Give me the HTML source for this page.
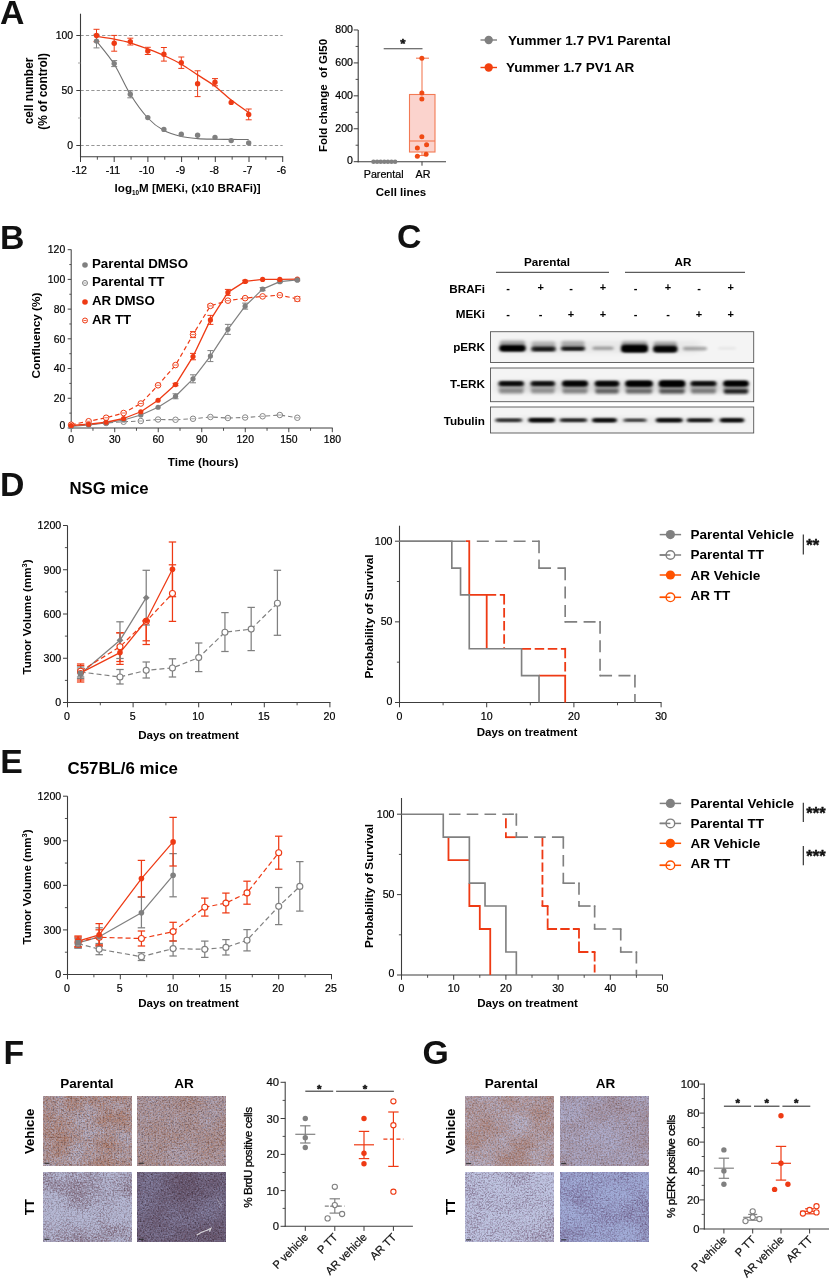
<!DOCTYPE html>
<html lang="en"><head><meta charset="utf-8"><title>Figure</title>
<style>html,body{margin:0;padding:0;background:#fff}svg{display:block}text{font-family:"Liberation Sans",Arial,Helvetica,sans-serif}</style></head>
<body>
<svg width="829" height="1280" viewBox="0 0 829 1280">
<rect width="829" height="1280" fill="#fff"/>
<g id="panelA">
<text x="0" y="23.9" font-size="33.8" font-weight="bold" text-anchor="start" fill="#111">A</text>
<line x1="80.5" y1="35.5" x2="282.7" y2="35.5" stroke="#8a8a8a" stroke-width="0.9" stroke-dasharray="3.2,2.2"/>
<line x1="80.5" y1="90.5" x2="282.7" y2="90.5" stroke="#8a8a8a" stroke-width="0.9" stroke-dasharray="3.2,2.2"/>
<line x1="80.5" y1="145.5" x2="282.7" y2="145.5" stroke="#8a8a8a" stroke-width="0.9" stroke-dasharray="3.2,2.2"/>
<line x1="80.5" y1="13.7" x2="80.5" y2="157.2" stroke="#3c3c3c" stroke-width="1.1"/>
<line x1="80" y1="156.7" x2="283.2" y2="156.7" stroke="#3c3c3c" stroke-width="1.1"/>
<line x1="76.3" y1="35.5" x2="80.5" y2="35.5" stroke="#3c3c3c" stroke-width="1"/>
<text x="73" y="39.2" font-size="10.4" font-weight="normal" text-anchor="end" fill="#000" stroke="#000" stroke-width="0.2">100</text>
<line x1="76.3" y1="90.5" x2="80.5" y2="90.5" stroke="#3c3c3c" stroke-width="1"/>
<text x="73" y="94.2" font-size="10.4" font-weight="normal" text-anchor="end" fill="#000" stroke="#000" stroke-width="0.2">50</text>
<line x1="76.3" y1="145.5" x2="80.5" y2="145.5" stroke="#3c3c3c" stroke-width="1"/>
<text x="73" y="149.2" font-size="10.4" font-weight="normal" text-anchor="end" fill="#000" stroke="#000" stroke-width="0.2">0</text>
<line x1="78" y1="63" x2="80.5" y2="63" stroke="#999" stroke-width="0.9"/>
<line x1="78" y1="118" x2="80.5" y2="118" stroke="#999" stroke-width="0.9"/>
<line x1="80.5" y1="156.7" x2="80.5" y2="162" stroke="#3c3c3c" stroke-width="1"/>
<text x="79.3" y="173.5" font-size="10.6" font-weight="normal" text-anchor="middle" fill="#000" stroke="#000" stroke-width="0.2">-12</text>
<line x1="114.2" y1="156.7" x2="114.2" y2="162" stroke="#3c3c3c" stroke-width="1"/>
<text x="113" y="173.5" font-size="10.6" font-weight="normal" text-anchor="middle" fill="#000" stroke="#000" stroke-width="0.2">-11</text>
<line x1="147.9" y1="156.7" x2="147.9" y2="162" stroke="#3c3c3c" stroke-width="1"/>
<text x="146.7" y="173.5" font-size="10.6" font-weight="normal" text-anchor="middle" fill="#000" stroke="#000" stroke-width="0.2">-10</text>
<line x1="181.6" y1="156.7" x2="181.6" y2="162" stroke="#3c3c3c" stroke-width="1"/>
<text x="180.4" y="173.5" font-size="10.6" font-weight="normal" text-anchor="middle" fill="#000" stroke="#000" stroke-width="0.2">-9</text>
<line x1="215.3" y1="156.7" x2="215.3" y2="162" stroke="#3c3c3c" stroke-width="1"/>
<text x="214.1" y="173.5" font-size="10.6" font-weight="normal" text-anchor="middle" fill="#000" stroke="#000" stroke-width="0.2">-8</text>
<line x1="249" y1="156.7" x2="249" y2="162" stroke="#3c3c3c" stroke-width="1"/>
<text x="247.8" y="173.5" font-size="10.6" font-weight="normal" text-anchor="middle" fill="#000" stroke="#000" stroke-width="0.2">-7</text>
<line x1="282.7" y1="156.7" x2="282.7" y2="162" stroke="#3c3c3c" stroke-width="1"/>
<text x="281.5" y="173.5" font-size="10.6" font-weight="normal" text-anchor="middle" fill="#000" stroke="#000" stroke-width="0.2">-6</text>
<line x1="97.35" y1="156.7" x2="97.35" y2="159.7" stroke="#3c3c3c" stroke-width="0.9"/>
<line x1="131.05" y1="156.7" x2="131.05" y2="159.7" stroke="#3c3c3c" stroke-width="0.9"/>
<line x1="164.75" y1="156.7" x2="164.75" y2="159.7" stroke="#3c3c3c" stroke-width="0.9"/>
<line x1="198.45" y1="156.7" x2="198.45" y2="159.7" stroke="#3c3c3c" stroke-width="0.9"/>
<line x1="232.15" y1="156.7" x2="232.15" y2="159.7" stroke="#3c3c3c" stroke-width="0.9"/>
<line x1="265.85" y1="156.7" x2="265.85" y2="159.7" stroke="#3c3c3c" stroke-width="0.9"/>
<text x="33.2" y="91" font-size="11.9" font-weight="bold" text-anchor="middle" fill="#000" transform="rotate(-90 33.2 91)">cell number</text>
<text x="47" y="91.4" font-size="11.9" font-weight="bold" text-anchor="middle" fill="#000" transform="rotate(-90 47 91.4)">(% of control)</text>
<text x="114.6" y="191.5" font-size="11.6" font-weight="bold" text-anchor="start" fill="#000">log<tspan font-size="6.3" dy="3.3">10</tspan><tspan dy="-3.3">M [MEKi, (x10 BRAFi)]</tspan></text>
<path d="M96.5,41.1 C99.45,44.95 108.57,55.33 114.2,64.2 C119.83,73.07 124.7,85.33 130.3,94.3 C135.9,103.27 142.2,111.95 147.8,118 C153.4,124.05 158.32,127.52 163.9,130.6 C169.48,133.68 175.68,135.17 181.3,136.5 C186.92,137.83 191.98,138.15 197.6,138.6 C203.22,139.05 209.4,139.07 215,139.2 C220.6,139.33 225.58,139.35 231.2,139.4 C236.82,139.45 245.78,139.48 248.7,139.5" fill="none" stroke="#707070" stroke-width="1.1"/>
<path d="M96.5,36.4 C99.45,36.85 108.57,38.03 114.2,39.1 C119.83,40.17 124.7,41.15 130.3,42.8 C135.9,44.45 142.2,46.88 147.8,49 C153.4,51.12 158.32,52.97 163.9,55.5 C169.48,58.03 175.68,60.97 181.3,64.2 C186.92,67.43 191.98,71.23 197.6,74.9 C203.22,78.57 209.4,82.02 215,86.2 C220.6,90.38 225.58,95.62 231.2,100 C236.82,104.38 245.78,110.42 248.7,112.5" fill="none" stroke="#ee3a14" stroke-width="1.3"/>
<line x1="96.5" y1="34.3" x2="96.5" y2="47.9" stroke="#808080" stroke-width="1"/>
<line x1="93.5" y1="34.3" x2="99.5" y2="34.3" stroke="#808080" stroke-width="1"/>
<line x1="93.5" y1="47.9" x2="99.5" y2="47.9" stroke="#808080" stroke-width="1"/>
<line x1="114.2" y1="60.6" x2="114.2" y2="66.6" stroke="#808080" stroke-width="1"/>
<line x1="111.2" y1="60.6" x2="117.2" y2="60.6" stroke="#808080" stroke-width="1"/>
<line x1="111.2" y1="66.6" x2="117.2" y2="66.6" stroke="#808080" stroke-width="1"/>
<line x1="130.3" y1="90.8" x2="130.3" y2="97.8" stroke="#808080" stroke-width="1"/>
<line x1="127.3" y1="90.8" x2="133.3" y2="90.8" stroke="#808080" stroke-width="1"/>
<line x1="127.3" y1="97.8" x2="133.3" y2="97.8" stroke="#808080" stroke-width="1"/>
<line x1="96.5" y1="29.3" x2="96.5" y2="41.7" stroke="#ee3a14" stroke-width="1"/>
<line x1="93.5" y1="29.3" x2="99.5" y2="29.3" stroke="#ee3a14" stroke-width="1"/>
<line x1="93.5" y1="41.7" x2="99.5" y2="41.7" stroke="#ee3a14" stroke-width="1"/>
<line x1="114.2" y1="35.4" x2="114.2" y2="51.2" stroke="#ee3a14" stroke-width="1"/>
<line x1="111.2" y1="35.4" x2="117.2" y2="35.4" stroke="#ee3a14" stroke-width="1"/>
<line x1="111.2" y1="51.2" x2="117.2" y2="51.2" stroke="#ee3a14" stroke-width="1"/>
<line x1="130.3" y1="38.2" x2="130.3" y2="45" stroke="#ee3a14" stroke-width="1"/>
<line x1="127.3" y1="38.2" x2="133.3" y2="38.2" stroke="#ee3a14" stroke-width="1"/>
<line x1="127.3" y1="45" x2="133.3" y2="45" stroke="#ee3a14" stroke-width="1"/>
<line x1="147.8" y1="47.3" x2="147.8" y2="54.5" stroke="#ee3a14" stroke-width="1"/>
<line x1="144.8" y1="47.3" x2="150.8" y2="47.3" stroke="#ee3a14" stroke-width="1"/>
<line x1="144.8" y1="54.5" x2="150.8" y2="54.5" stroke="#ee3a14" stroke-width="1"/>
<line x1="163.9" y1="47.5" x2="163.9" y2="61.1" stroke="#ee3a14" stroke-width="1"/>
<line x1="160.9" y1="47.5" x2="166.9" y2="47.5" stroke="#ee3a14" stroke-width="1"/>
<line x1="160.9" y1="61.1" x2="166.9" y2="61.1" stroke="#ee3a14" stroke-width="1"/>
<line x1="181.3" y1="57" x2="181.3" y2="68.4" stroke="#ee3a14" stroke-width="1"/>
<line x1="178.3" y1="57" x2="184.3" y2="57" stroke="#ee3a14" stroke-width="1"/>
<line x1="178.3" y1="68.4" x2="184.3" y2="68.4" stroke="#ee3a14" stroke-width="1"/>
<line x1="197.6" y1="70.8" x2="197.6" y2="96.6" stroke="#ee3a14" stroke-width="1"/>
<line x1="194.6" y1="70.8" x2="200.6" y2="70.8" stroke="#ee3a14" stroke-width="1"/>
<line x1="194.6" y1="96.6" x2="200.6" y2="96.6" stroke="#ee3a14" stroke-width="1"/>
<line x1="215" y1="78.6" x2="215" y2="85.8" stroke="#ee3a14" stroke-width="1"/>
<line x1="212" y1="78.6" x2="218" y2="78.6" stroke="#ee3a14" stroke-width="1"/>
<line x1="212" y1="85.8" x2="218" y2="85.8" stroke="#ee3a14" stroke-width="1"/>
<line x1="248.7" y1="109" x2="248.7" y2="119.8" stroke="#ee3a14" stroke-width="1"/>
<line x1="245.7" y1="109" x2="251.7" y2="109" stroke="#ee3a14" stroke-width="1"/>
<line x1="245.7" y1="119.8" x2="251.7" y2="119.8" stroke="#ee3a14" stroke-width="1"/>
<circle cx="96.5" cy="41.1" r="2.7" fill="#808080"/>
<circle cx="114.2" cy="63.6" r="2.7" fill="#808080"/>
<circle cx="130.3" cy="94.3" r="2.7" fill="#808080"/>
<circle cx="147.8" cy="117.6" r="2.7" fill="#808080"/>
<circle cx="163.9" cy="129.4" r="2.7" fill="#808080"/>
<circle cx="181.3" cy="134.2" r="2.7" fill="#808080"/>
<circle cx="197.6" cy="135.2" r="2.7" fill="#808080"/>
<circle cx="215" cy="137.4" r="2.7" fill="#808080"/>
<circle cx="231.2" cy="140.6" r="2.7" fill="#808080"/>
<circle cx="248.7" cy="142.9" r="2.7" fill="#808080"/>
<circle cx="96.5" cy="35.5" r="2.7" fill="#ee3a14"/>
<circle cx="114.2" cy="43.3" r="2.7" fill="#ee3a14"/>
<circle cx="130.3" cy="41.6" r="2.7" fill="#ee3a14"/>
<circle cx="147.8" cy="50.9" r="2.7" fill="#ee3a14"/>
<circle cx="163.9" cy="54.3" r="2.7" fill="#ee3a14"/>
<circle cx="181.3" cy="62.7" r="2.7" fill="#ee3a14"/>
<circle cx="197.6" cy="83.7" r="2.7" fill="#ee3a14"/>
<circle cx="215" cy="82.2" r="2.7" fill="#ee3a14"/>
<circle cx="231.2" cy="102.4" r="2.7" fill="#ee3a14"/>
<circle cx="248.7" cy="114.4" r="2.7" fill="#ee3a14"/>
<line x1="358.2" y1="30" x2="358.2" y2="162.2" stroke="#3c3c3c" stroke-width="1.1"/>
<line x1="357.7" y1="161.7" x2="446" y2="161.7" stroke="#3c3c3c" stroke-width="1.1"/>
<line x1="353.7" y1="161.7" x2="358.2" y2="161.7" stroke="#3c3c3c" stroke-width="1"/>
<text x="353" y="164.3" font-size="10.6" font-weight="normal" text-anchor="end" fill="#000" stroke="#000" stroke-width="0.2">0</text>
<line x1="353.7" y1="128.77" x2="358.2" y2="128.77" stroke="#3c3c3c" stroke-width="1"/>
<text x="353" y="131.97" font-size="10.6" font-weight="normal" text-anchor="end" fill="#000" stroke="#000" stroke-width="0.2">200</text>
<line x1="353.7" y1="95.84" x2="358.2" y2="95.84" stroke="#3c3c3c" stroke-width="1"/>
<text x="353" y="99.04" font-size="10.6" font-weight="normal" text-anchor="end" fill="#000" stroke="#000" stroke-width="0.2">400</text>
<line x1="353.7" y1="62.91" x2="358.2" y2="62.91" stroke="#3c3c3c" stroke-width="1"/>
<text x="353" y="66.11" font-size="10.6" font-weight="normal" text-anchor="end" fill="#000" stroke="#000" stroke-width="0.2">600</text>
<line x1="353.7" y1="29.98" x2="358.2" y2="29.98" stroke="#3c3c3c" stroke-width="1"/>
<text x="353" y="33.18" font-size="10.6" font-weight="normal" text-anchor="end" fill="#000" stroke="#000" stroke-width="0.2">800</text>
<line x1="355.6" y1="145.23" x2="358.2" y2="145.23" stroke="#3c3c3c" stroke-width="0.9"/>
<line x1="355.6" y1="112.3" x2="358.2" y2="112.3" stroke="#3c3c3c" stroke-width="0.9"/>
<line x1="355.6" y1="79.38" x2="358.2" y2="79.38" stroke="#3c3c3c" stroke-width="0.9"/>
<line x1="355.6" y1="46.44" x2="358.2" y2="46.44" stroke="#3c3c3c" stroke-width="0.9"/>
<line x1="422" y1="161.7" x2="422" y2="165.7" stroke="#3c3c3c" stroke-width="1"/>
<text x="383.7" y="177.5" font-size="10.7" font-weight="normal" text-anchor="middle" fill="#000" stroke="#000" stroke-width="0.2">Parental</text>
<text x="423" y="177.5" font-size="10.7" font-weight="normal" text-anchor="middle" fill="#000" stroke="#000" stroke-width="0.2">AR</text>
<text x="401" y="195.6" font-size="11.5" font-weight="bold" text-anchor="middle" fill="#000">Cell lines</text>
<text x="326.6" y="95.5" font-size="11.5" font-weight="bold" text-anchor="middle" fill="#000" transform="rotate(-90 326.6 95.5)" xml:space="preserve">Fold change  of GI50</text>
<circle cx="373.5" cy="161.7" r="2.3" fill="#808080"/>
<circle cx="377.1" cy="161.7" r="2.3" fill="#808080"/>
<circle cx="380.7" cy="161.7" r="2.3" fill="#808080"/>
<circle cx="384.3" cy="161.7" r="2.3" fill="#808080"/>
<circle cx="387.9" cy="161.7" r="2.3" fill="#808080"/>
<circle cx="391.5" cy="161.7" r="2.3" fill="#808080"/>
<circle cx="395.1" cy="161.7" r="2.3" fill="#808080"/>
<rect x="409.5" y="94.5" width="25.5" height="57.5" fill="#fbd3cd" stroke="#f27a55" stroke-width="1.1"/>
<line x1="409.5" y1="141" x2="435" y2="141" stroke="#f27a55" stroke-width="1.1"/>
<line x1="422" y1="58.2" x2="422" y2="94.5" stroke="#f27a55" stroke-width="1.1"/>
<line x1="422" y1="152" x2="422" y2="155.5" stroke="#f27a55" stroke-width="1.1"/>
<line x1="416" y1="58.2" x2="429" y2="58.2" stroke="#f27a55" stroke-width="1.1"/>
<line x1="417" y1="155.5" x2="427" y2="155.5" stroke="#f27a55" stroke-width="1.1"/>
<circle cx="421.85" cy="58.18" r="2.5" fill="#f04a14"/>
<circle cx="421.85" cy="92.88" r="2.5" fill="#f04a14"/>
<circle cx="421.85" cy="98.88" r="2.5" fill="#f04a14"/>
<circle cx="421.85" cy="136.83" r="2.5" fill="#f04a14"/>
<circle cx="426.59" cy="144.82" r="2.5" fill="#f04a14"/>
<circle cx="417.35" cy="148.06" r="2.5" fill="#f04a14"/>
<circle cx="417.35" cy="156.3" r="2.5" fill="#f04a14"/>
<circle cx="426.09" cy="154.31" r="2.5" fill="#f04a14"/>
<line x1="383.7" y1="48.7" x2="422.5" y2="48.7" stroke="#444" stroke-width="1.1"/>
<text x="403" y="48.3" font-size="13.5" font-weight="bold" text-anchor="middle" fill="#111" stroke="#111" stroke-width="0.5" stroke-linejoin="round">*</text>
<line x1="480.5" y1="40" x2="497" y2="40" stroke="#808080" stroke-width="1.4"/>
<circle cx="488.7" cy="40" r="4.2" fill="#808080"/>
<line x1="480.5" y1="67.5" x2="497" y2="67.5" stroke="#f2400f" stroke-width="1.4"/>
<circle cx="488.7" cy="67.5" r="4.2" fill="#f2400f"/>
<text x="508" y="45" font-size="13.55" font-weight="bold" text-anchor="start" fill="#000">Yummer 1.7 PV1 Parental</text>
<text x="506" y="72" font-size="13.55" font-weight="bold" text-anchor="start" fill="#000">Yummer 1.7 PV1 AR</text>
</g>
<g id="panelB">
<text x="0" y="248.5" font-size="33.8" font-weight="bold" text-anchor="start" fill="#111">B</text>
<line x1="71.2" y1="249.5" x2="71.2" y2="428.5" stroke="#3c3c3c" stroke-width="1"/>
<line x1="70.7" y1="428" x2="332.7" y2="428" stroke="#3c3c3c" stroke-width="1"/>
<line x1="67.7" y1="428" x2="71.2" y2="428" stroke="#3c3c3c" stroke-width="0.95"/>
<text x="65.2" y="428.7" font-size="10.4" font-weight="normal" text-anchor="end" fill="#000" stroke="#000" stroke-width="0.2">0</text>
<line x1="67.7" y1="398.28" x2="71.2" y2="398.28" stroke="#3c3c3c" stroke-width="0.95"/>
<text x="65.2" y="401.98" font-size="10.4" font-weight="normal" text-anchor="end" fill="#000" stroke="#000" stroke-width="0.2">20</text>
<line x1="67.7" y1="368.56" x2="71.2" y2="368.56" stroke="#3c3c3c" stroke-width="0.95"/>
<text x="65.2" y="372.26" font-size="10.4" font-weight="normal" text-anchor="end" fill="#000" stroke="#000" stroke-width="0.2">40</text>
<line x1="67.7" y1="338.84" x2="71.2" y2="338.84" stroke="#3c3c3c" stroke-width="0.95"/>
<text x="65.2" y="342.54" font-size="10.4" font-weight="normal" text-anchor="end" fill="#000" stroke="#000" stroke-width="0.2">60</text>
<line x1="67.7" y1="309.12" x2="71.2" y2="309.12" stroke="#3c3c3c" stroke-width="0.95"/>
<text x="65.2" y="312.82" font-size="10.4" font-weight="normal" text-anchor="end" fill="#000" stroke="#000" stroke-width="0.2">80</text>
<line x1="67.7" y1="279.4" x2="71.2" y2="279.4" stroke="#3c3c3c" stroke-width="0.95"/>
<text x="65.2" y="283.1" font-size="10.4" font-weight="normal" text-anchor="end" fill="#000" stroke="#000" stroke-width="0.2">100</text>
<line x1="67.7" y1="249.68" x2="71.2" y2="249.68" stroke="#3c3c3c" stroke-width="0.95"/>
<text x="65.2" y="253.38" font-size="10.4" font-weight="normal" text-anchor="end" fill="#000" stroke="#000" stroke-width="0.2">120</text>
<line x1="69.3" y1="413.14" x2="71.2" y2="413.14" stroke="#3c3c3c" stroke-width="0.85"/>
<line x1="69.3" y1="383.42" x2="71.2" y2="383.42" stroke="#3c3c3c" stroke-width="0.85"/>
<line x1="69.3" y1="353.7" x2="71.2" y2="353.7" stroke="#3c3c3c" stroke-width="0.85"/>
<line x1="69.3" y1="323.98" x2="71.2" y2="323.98" stroke="#3c3c3c" stroke-width="0.85"/>
<line x1="69.3" y1="294.26" x2="71.2" y2="294.26" stroke="#3c3c3c" stroke-width="0.85"/>
<line x1="69.3" y1="264.54" x2="71.2" y2="264.54" stroke="#3c3c3c" stroke-width="0.85"/>
<line x1="71.2" y1="428" x2="71.2" y2="432.2" stroke="#3c3c3c" stroke-width="0.95"/>
<text x="71.2" y="442.6" font-size="10.4" font-weight="normal" text-anchor="middle" fill="#000" stroke="#000" stroke-width="0.2">0</text>
<line x1="114.72" y1="428" x2="114.72" y2="432.2" stroke="#3c3c3c" stroke-width="0.95"/>
<text x="114.72" y="442.6" font-size="10.4" font-weight="normal" text-anchor="middle" fill="#000" stroke="#000" stroke-width="0.2">30</text>
<line x1="158.24" y1="428" x2="158.24" y2="432.2" stroke="#3c3c3c" stroke-width="0.95"/>
<text x="158.24" y="442.6" font-size="10.4" font-weight="normal" text-anchor="middle" fill="#000" stroke="#000" stroke-width="0.2">60</text>
<line x1="201.76" y1="428" x2="201.76" y2="432.2" stroke="#3c3c3c" stroke-width="0.95"/>
<text x="201.76" y="442.6" font-size="10.4" font-weight="normal" text-anchor="middle" fill="#000" stroke="#000" stroke-width="0.2">90</text>
<line x1="245.28" y1="428" x2="245.28" y2="432.2" stroke="#3c3c3c" stroke-width="0.95"/>
<text x="245.28" y="442.6" font-size="10.4" font-weight="normal" text-anchor="middle" fill="#000" stroke="#000" stroke-width="0.2">120</text>
<line x1="288.8" y1="428" x2="288.8" y2="432.2" stroke="#3c3c3c" stroke-width="0.95"/>
<text x="288.8" y="442.6" font-size="10.4" font-weight="normal" text-anchor="middle" fill="#000" stroke="#000" stroke-width="0.2">150</text>
<line x1="332.32" y1="428" x2="332.32" y2="432.2" stroke="#3c3c3c" stroke-width="0.95"/>
<text x="332.32" y="442.6" font-size="10.4" font-weight="normal" text-anchor="middle" fill="#000" stroke="#000" stroke-width="0.2">180</text>
<line x1="92.96" y1="428" x2="92.96" y2="430.8" stroke="#3c3c3c" stroke-width="0.9"/>
<line x1="136.48" y1="428" x2="136.48" y2="430.8" stroke="#3c3c3c" stroke-width="0.9"/>
<line x1="180" y1="428" x2="180" y2="430.8" stroke="#3c3c3c" stroke-width="0.9"/>
<line x1="223.52" y1="428" x2="223.52" y2="430.8" stroke="#3c3c3c" stroke-width="0.9"/>
<line x1="267.04" y1="428" x2="267.04" y2="430.8" stroke="#3c3c3c" stroke-width="0.9"/>
<line x1="310.56" y1="428" x2="310.56" y2="430.8" stroke="#3c3c3c" stroke-width="0.9"/>
<text x="203" y="466" font-size="11.7" font-weight="bold" text-anchor="middle" fill="#000">Time (hours)</text>
<text x="40.3" y="335.5" font-size="11.8" font-weight="bold" text-anchor="middle" fill="#000" transform="rotate(-90 40.3 335.5)">Confluency (%)</text>
<polyline points="71.16,425.74 88.64,424.24 106.12,423 123.6,421.75 140.82,421 158.05,419.5 175.53,419.75 193.01,418.75 210.42,417 227.9,418 245.13,417.5 262.61,416.25 279.84,415.01 297.32,417.75" fill="none" stroke="#808080" stroke-width="1.1" stroke-linejoin="round" stroke-dasharray="4.5,3"/>
<polyline points="71.16,426.49 88.64,424.99 106.12,423 123.6,420 140.82,415.01 158.05,407.27 175.53,396.28 193.01,378.8 210.42,356.08 227.9,329.36 245.13,306.14 262.61,289.16 279.84,281.67 297.32,279.93" fill="none" stroke="#808080" stroke-width="1.2" stroke-linejoin="round"/>
<polyline points="71.16,424.74 88.64,421.25 106.12,417.75 123.6,413.01 140.82,403.52 158.05,385.29 175.53,365.07 193.01,334.61 210.42,305.89 227.9,300.65 245.13,298.15 262.61,296.4 279.84,295.16 297.32,298.9" fill="none" stroke="#ee3a14" stroke-width="1.2" stroke-linejoin="round" stroke-dasharray="4.5,3"/>
<polyline points="71.16,425.49 88.64,424.24 106.12,422.25 123.6,418.5 140.82,411.76 158.05,400.27 175.53,384.54 193.01,356.58 210.42,319.88 227.9,292.41 245.13,281.42 262.61,279.43 279.84,279.43 297.32,279.18" fill="none" stroke="#ee3a14" stroke-width="1.3" stroke-linejoin="round"/>
<line x1="175.53" y1="393.78" x2="175.53" y2="398.78" stroke="#808080" stroke-width="1"/>
<line x1="172.53" y1="393.78" x2="178.53" y2="393.78" stroke="#808080" stroke-width="1"/>
<line x1="172.53" y1="398.78" x2="178.53" y2="398.78" stroke="#808080" stroke-width="1"/>
<line x1="193.01" y1="374.8" x2="193.01" y2="382.8" stroke="#808080" stroke-width="1"/>
<line x1="190.01" y1="374.8" x2="196.01" y2="374.8" stroke="#808080" stroke-width="1"/>
<line x1="190.01" y1="382.8" x2="196.01" y2="382.8" stroke="#808080" stroke-width="1"/>
<line x1="210.42" y1="350.58" x2="210.42" y2="361.58" stroke="#808080" stroke-width="1"/>
<line x1="207.42" y1="350.58" x2="213.42" y2="350.58" stroke="#808080" stroke-width="1"/>
<line x1="207.42" y1="361.58" x2="213.42" y2="361.58" stroke="#808080" stroke-width="1"/>
<line x1="227.9" y1="324.36" x2="227.9" y2="334.36" stroke="#808080" stroke-width="1"/>
<line x1="224.9" y1="324.36" x2="230.9" y2="324.36" stroke="#808080" stroke-width="1"/>
<line x1="224.9" y1="334.36" x2="230.9" y2="334.36" stroke="#808080" stroke-width="1"/>
<line x1="245.13" y1="303.14" x2="245.13" y2="309.14" stroke="#808080" stroke-width="1"/>
<line x1="242.13" y1="303.14" x2="248.13" y2="303.14" stroke="#808080" stroke-width="1"/>
<line x1="242.13" y1="309.14" x2="248.13" y2="309.14" stroke="#808080" stroke-width="1"/>
<line x1="262.61" y1="287.66" x2="262.61" y2="290.66" stroke="#808080" stroke-width="1"/>
<line x1="259.61" y1="287.66" x2="265.61" y2="287.66" stroke="#808080" stroke-width="1"/>
<line x1="259.61" y1="290.66" x2="265.61" y2="290.66" stroke="#808080" stroke-width="1"/>
<line x1="279.84" y1="280.67" x2="279.84" y2="282.67" stroke="#808080" stroke-width="1"/>
<line x1="276.84" y1="280.67" x2="282.84" y2="280.67" stroke="#808080" stroke-width="1"/>
<line x1="276.84" y1="282.67" x2="282.84" y2="282.67" stroke="#808080" stroke-width="1"/>
<line x1="297.32" y1="279.13" x2="297.32" y2="280.73" stroke="#808080" stroke-width="1"/>
<line x1="294.32" y1="279.13" x2="300.32" y2="279.13" stroke="#808080" stroke-width="1"/>
<line x1="294.32" y1="280.73" x2="300.32" y2="280.73" stroke="#808080" stroke-width="1"/>
<line x1="175.53" y1="383.34" x2="175.53" y2="385.74" stroke="#ee3a14" stroke-width="1"/>
<line x1="172.53" y1="383.34" x2="178.53" y2="383.34" stroke="#ee3a14" stroke-width="1"/>
<line x1="172.53" y1="385.74" x2="178.53" y2="385.74" stroke="#ee3a14" stroke-width="1"/>
<line x1="193.01" y1="353.38" x2="193.01" y2="359.78" stroke="#ee3a14" stroke-width="1"/>
<line x1="190.01" y1="353.38" x2="196.01" y2="353.38" stroke="#ee3a14" stroke-width="1"/>
<line x1="190.01" y1="359.78" x2="196.01" y2="359.78" stroke="#ee3a14" stroke-width="1"/>
<line x1="210.42" y1="315.38" x2="210.42" y2="324.38" stroke="#ee3a14" stroke-width="1"/>
<line x1="207.42" y1="315.38" x2="213.42" y2="315.38" stroke="#ee3a14" stroke-width="1"/>
<line x1="207.42" y1="324.38" x2="213.42" y2="324.38" stroke="#ee3a14" stroke-width="1"/>
<line x1="227.9" y1="289.41" x2="227.9" y2="295.41" stroke="#ee3a14" stroke-width="1"/>
<line x1="224.9" y1="289.41" x2="230.9" y2="289.41" stroke="#ee3a14" stroke-width="1"/>
<line x1="224.9" y1="295.41" x2="230.9" y2="295.41" stroke="#ee3a14" stroke-width="1"/>
<line x1="245.13" y1="280.22" x2="245.13" y2="282.62" stroke="#ee3a14" stroke-width="1"/>
<line x1="242.13" y1="280.22" x2="248.13" y2="280.22" stroke="#ee3a14" stroke-width="1"/>
<line x1="242.13" y1="282.62" x2="248.13" y2="282.62" stroke="#ee3a14" stroke-width="1"/>
<line x1="193.01" y1="331.61" x2="193.01" y2="337.61" stroke="#ee3a14" stroke-width="1"/>
<line x1="190.01" y1="331.61" x2="196.01" y2="331.61" stroke="#ee3a14" stroke-width="1"/>
<line x1="190.01" y1="337.61" x2="196.01" y2="337.61" stroke="#ee3a14" stroke-width="1"/>
<line x1="210.42" y1="304.39" x2="210.42" y2="307.39" stroke="#ee3a14" stroke-width="1"/>
<line x1="207.42" y1="304.39" x2="213.42" y2="304.39" stroke="#ee3a14" stroke-width="1"/>
<line x1="207.42" y1="307.39" x2="213.42" y2="307.39" stroke="#ee3a14" stroke-width="1"/>
<line x1="297.32" y1="296.7" x2="297.32" y2="301.1" stroke="#ee3a14" stroke-width="1"/>
<line x1="294.32" y1="296.7" x2="300.32" y2="296.7" stroke="#ee3a14" stroke-width="1"/>
<line x1="294.32" y1="301.1" x2="300.32" y2="301.1" stroke="#ee3a14" stroke-width="1"/>
<circle cx="71.16" cy="425.74" r="2.75" fill="#fff" stroke="#808080" stroke-width="0.95"/>
<line x1="69.26" y1="425.74" x2="73.06" y2="425.74" stroke="#808080" stroke-width="0.75"/>
<circle cx="88.64" cy="424.24" r="2.75" fill="#fff" stroke="#808080" stroke-width="0.95"/>
<line x1="86.74" y1="424.24" x2="90.54" y2="424.24" stroke="#808080" stroke-width="0.75"/>
<circle cx="106.12" cy="423" r="2.75" fill="#fff" stroke="#808080" stroke-width="0.95"/>
<line x1="104.22" y1="423" x2="108.02" y2="423" stroke="#808080" stroke-width="0.75"/>
<circle cx="123.6" cy="421.75" r="2.75" fill="#fff" stroke="#808080" stroke-width="0.95"/>
<line x1="121.7" y1="421.75" x2="125.5" y2="421.75" stroke="#808080" stroke-width="0.75"/>
<circle cx="140.82" cy="421" r="2.75" fill="#fff" stroke="#808080" stroke-width="0.95"/>
<line x1="138.92" y1="421" x2="142.72" y2="421" stroke="#808080" stroke-width="0.75"/>
<circle cx="158.05" cy="419.5" r="2.75" fill="#fff" stroke="#808080" stroke-width="0.95"/>
<line x1="156.15" y1="419.5" x2="159.95" y2="419.5" stroke="#808080" stroke-width="0.75"/>
<circle cx="175.53" cy="419.75" r="2.75" fill="#fff" stroke="#808080" stroke-width="0.95"/>
<line x1="173.63" y1="419.75" x2="177.43" y2="419.75" stroke="#808080" stroke-width="0.75"/>
<circle cx="193.01" cy="418.75" r="2.75" fill="#fff" stroke="#808080" stroke-width="0.95"/>
<line x1="191.11" y1="418.75" x2="194.91" y2="418.75" stroke="#808080" stroke-width="0.75"/>
<circle cx="210.42" cy="417" r="2.75" fill="#fff" stroke="#808080" stroke-width="0.95"/>
<line x1="208.52" y1="417" x2="212.32" y2="417" stroke="#808080" stroke-width="0.75"/>
<circle cx="227.9" cy="418" r="2.75" fill="#fff" stroke="#808080" stroke-width="0.95"/>
<line x1="226" y1="418" x2="229.8" y2="418" stroke="#808080" stroke-width="0.75"/>
<circle cx="245.13" cy="417.5" r="2.75" fill="#fff" stroke="#808080" stroke-width="0.95"/>
<line x1="243.23" y1="417.5" x2="247.03" y2="417.5" stroke="#808080" stroke-width="0.75"/>
<circle cx="262.61" cy="416.25" r="2.75" fill="#fff" stroke="#808080" stroke-width="0.95"/>
<line x1="260.71" y1="416.25" x2="264.51" y2="416.25" stroke="#808080" stroke-width="0.75"/>
<circle cx="279.84" cy="415.01" r="2.75" fill="#fff" stroke="#808080" stroke-width="0.95"/>
<line x1="277.94" y1="415.01" x2="281.74" y2="415.01" stroke="#808080" stroke-width="0.75"/>
<circle cx="297.32" cy="417.75" r="2.75" fill="#fff" stroke="#808080" stroke-width="0.95"/>
<line x1="295.42" y1="417.75" x2="299.22" y2="417.75" stroke="#808080" stroke-width="0.75"/>
<circle cx="71.16" cy="426.49" r="2.6" fill="#808080"/>
<circle cx="88.64" cy="424.99" r="2.6" fill="#808080"/>
<circle cx="106.12" cy="423" r="2.6" fill="#808080"/>
<circle cx="123.6" cy="420" r="2.6" fill="#808080"/>
<circle cx="140.82" cy="415.01" r="2.6" fill="#808080"/>
<circle cx="158.05" cy="407.27" r="2.6" fill="#808080"/>
<circle cx="175.53" cy="396.28" r="2.6" fill="#808080"/>
<circle cx="193.01" cy="378.8" r="2.6" fill="#808080"/>
<circle cx="210.42" cy="356.08" r="2.6" fill="#808080"/>
<circle cx="227.9" cy="329.36" r="2.6" fill="#808080"/>
<circle cx="245.13" cy="306.14" r="2.6" fill="#808080"/>
<circle cx="262.61" cy="289.16" r="2.6" fill="#808080"/>
<circle cx="279.84" cy="281.67" r="2.6" fill="#808080"/>
<circle cx="297.32" cy="279.93" r="2.6" fill="#808080"/>
<circle cx="71.16" cy="424.74" r="2.8" fill="#fff" stroke="#ee3a14" stroke-width="1"/>
<line x1="69.26" y1="424.74" x2="73.06" y2="424.74" stroke="#ee3a14" stroke-width="0.75"/>
<circle cx="88.64" cy="421.25" r="2.8" fill="#fff" stroke="#ee3a14" stroke-width="1"/>
<line x1="86.74" y1="421.25" x2="90.54" y2="421.25" stroke="#ee3a14" stroke-width="0.75"/>
<circle cx="106.12" cy="417.75" r="2.8" fill="#fff" stroke="#ee3a14" stroke-width="1"/>
<line x1="104.22" y1="417.75" x2="108.02" y2="417.75" stroke="#ee3a14" stroke-width="0.75"/>
<circle cx="123.6" cy="413.01" r="2.8" fill="#fff" stroke="#ee3a14" stroke-width="1"/>
<line x1="121.7" y1="413.01" x2="125.5" y2="413.01" stroke="#ee3a14" stroke-width="0.75"/>
<circle cx="140.82" cy="403.52" r="2.8" fill="#fff" stroke="#ee3a14" stroke-width="1"/>
<line x1="138.92" y1="403.52" x2="142.72" y2="403.52" stroke="#ee3a14" stroke-width="0.75"/>
<circle cx="158.05" cy="385.29" r="2.8" fill="#fff" stroke="#ee3a14" stroke-width="1"/>
<line x1="156.15" y1="385.29" x2="159.95" y2="385.29" stroke="#ee3a14" stroke-width="0.75"/>
<circle cx="175.53" cy="365.07" r="2.8" fill="#fff" stroke="#ee3a14" stroke-width="1"/>
<line x1="173.63" y1="365.07" x2="177.43" y2="365.07" stroke="#ee3a14" stroke-width="0.75"/>
<circle cx="193.01" cy="334.61" r="2.8" fill="#fff" stroke="#ee3a14" stroke-width="1"/>
<line x1="191.11" y1="334.61" x2="194.91" y2="334.61" stroke="#ee3a14" stroke-width="0.75"/>
<circle cx="210.42" cy="305.89" r="2.8" fill="#fff" stroke="#ee3a14" stroke-width="1"/>
<line x1="208.52" y1="305.89" x2="212.32" y2="305.89" stroke="#ee3a14" stroke-width="0.75"/>
<circle cx="227.9" cy="300.65" r="2.8" fill="#fff" stroke="#ee3a14" stroke-width="1"/>
<line x1="226" y1="300.65" x2="229.8" y2="300.65" stroke="#ee3a14" stroke-width="0.75"/>
<circle cx="245.13" cy="298.15" r="2.8" fill="#fff" stroke="#ee3a14" stroke-width="1"/>
<line x1="243.23" y1="298.15" x2="247.03" y2="298.15" stroke="#ee3a14" stroke-width="0.75"/>
<circle cx="262.61" cy="296.4" r="2.8" fill="#fff" stroke="#ee3a14" stroke-width="1"/>
<line x1="260.71" y1="296.4" x2="264.51" y2="296.4" stroke="#ee3a14" stroke-width="0.75"/>
<circle cx="279.84" cy="295.16" r="2.8" fill="#fff" stroke="#ee3a14" stroke-width="1"/>
<line x1="277.94" y1="295.16" x2="281.74" y2="295.16" stroke="#ee3a14" stroke-width="0.75"/>
<circle cx="297.32" cy="298.9" r="2.8" fill="#fff" stroke="#ee3a14" stroke-width="1"/>
<line x1="295.42" y1="298.9" x2="299.22" y2="298.9" stroke="#ee3a14" stroke-width="0.75"/>
<circle cx="71.16" cy="425.49" r="2.6" fill="#ee3a14"/>
<circle cx="88.64" cy="424.24" r="2.6" fill="#ee3a14"/>
<circle cx="106.12" cy="422.25" r="2.6" fill="#ee3a14"/>
<circle cx="123.6" cy="418.5" r="2.6" fill="#ee3a14"/>
<circle cx="140.82" cy="411.76" r="2.6" fill="#ee3a14"/>
<circle cx="158.05" cy="400.27" r="2.6" fill="#ee3a14"/>
<circle cx="175.53" cy="384.54" r="2.6" fill="#ee3a14"/>
<circle cx="193.01" cy="356.58" r="2.6" fill="#ee3a14"/>
<circle cx="210.42" cy="319.88" r="2.6" fill="#ee3a14"/>
<circle cx="227.9" cy="292.41" r="2.6" fill="#ee3a14"/>
<circle cx="245.13" cy="281.42" r="2.6" fill="#ee3a14"/>
<circle cx="262.61" cy="279.43" r="2.6" fill="#ee3a14"/>
<circle cx="279.84" cy="279.43" r="2.6" fill="#ee3a14"/>
<circle cx="297.32" cy="279.18" r="2.6" fill="#ee3a14"/>
<circle cx="297.32" cy="279.93" r="2.6" fill="#808080"/>
<circle cx="85" cy="265" r="2.8" fill="#808080"/>
<text x="92" y="268.1" font-size="13.3" font-weight="bold" text-anchor="start" fill="#000">Parental DMSO</text>
<circle cx="85" cy="283" r="2.5" fill="#fff" stroke="#808080" stroke-width="1"/>
<line x1="83.4" y1="283" x2="86.6" y2="283" stroke="#808080" stroke-width="0.8"/>
<text x="92" y="286.1" font-size="13.3" font-weight="bold" text-anchor="start" fill="#000">Parental TT</text>
<circle cx="85" cy="302" r="2.8" fill="#ee3a14"/>
<text x="92" y="305.1" font-size="13.3" font-weight="bold" text-anchor="start" fill="#000">AR DMSO</text>
<circle cx="85" cy="320.5" r="2.5" fill="#fff" stroke="#ee3a14" stroke-width="1"/>
<line x1="83.4" y1="320.5" x2="86.6" y2="320.5" stroke="#ee3a14" stroke-width="0.8"/>
<text x="92" y="323.6" font-size="13.3" font-weight="bold" text-anchor="start" fill="#000">AR TT</text>
</g>
<g id="panelC">
<text x="397.1" y="248.4" font-size="33.8" font-weight="bold" text-anchor="start" fill="#111">C</text>
<text x="547" y="266" font-size="11.7" font-weight="bold" text-anchor="middle" fill="#000">Parental</text>
<text x="683" y="266" font-size="11.7" font-weight="bold" text-anchor="middle" fill="#000">AR</text>
<line x1="496" y1="272.3" x2="609" y2="272.3" stroke="#333" stroke-width="1"/>
<line x1="625" y1="272.3" x2="745" y2="272.3" stroke="#333" stroke-width="1"/>
<text x="485" y="292.5" font-size="11.7" font-weight="bold" text-anchor="end" fill="#000">BRAFi</text>
<text x="485" y="318" font-size="11.7" font-weight="bold" text-anchor="end" fill="#000">MEKi</text>
<text x="508" y="291.7" font-size="11" font-weight="bold" text-anchor="middle" fill="#000">-</text>
<text x="508" y="317.8" font-size="11" font-weight="bold" text-anchor="middle" fill="#000">-</text>
<text x="540.7" y="291.4" font-size="11" font-weight="bold" text-anchor="middle" fill="#000">+</text>
<text x="540.7" y="317.8" font-size="11" font-weight="bold" text-anchor="middle" fill="#000">-</text>
<text x="571" y="291.7" font-size="11" font-weight="bold" text-anchor="middle" fill="#000">-</text>
<text x="571" y="317.5" font-size="11" font-weight="bold" text-anchor="middle" fill="#000">+</text>
<text x="603" y="291.4" font-size="11" font-weight="bold" text-anchor="middle" fill="#000">+</text>
<text x="603" y="317.5" font-size="11" font-weight="bold" text-anchor="middle" fill="#000">+</text>
<text x="635.5" y="291.7" font-size="11" font-weight="bold" text-anchor="middle" fill="#000">-</text>
<text x="635.5" y="317.8" font-size="11" font-weight="bold" text-anchor="middle" fill="#000">-</text>
<text x="668" y="291.4" font-size="11" font-weight="bold" text-anchor="middle" fill="#000">+</text>
<text x="668" y="317.8" font-size="11" font-weight="bold" text-anchor="middle" fill="#000">-</text>
<text x="699" y="291.7" font-size="11" font-weight="bold" text-anchor="middle" fill="#000">-</text>
<text x="699" y="317.5" font-size="11" font-weight="bold" text-anchor="middle" fill="#000">+</text>
<text x="730.7" y="291.4" font-size="11" font-weight="bold" text-anchor="middle" fill="#000">+</text>
<text x="730.7" y="317.5" font-size="11" font-weight="bold" text-anchor="middle" fill="#000">+</text>
<text x="485" y="351" font-size="11.7" font-weight="bold" text-anchor="end" fill="#000">pERK</text>
<text x="485" y="388" font-size="11.7" font-weight="bold" text-anchor="end" fill="#000">T-ERK</text>
<text x="485" y="424.5" font-size="11.7" font-weight="bold" text-anchor="end" fill="#000">Tubulin</text>
<defs><filter id="bl" x="-20%" y="-50%" width="140%" height="200%"><feGaussianBlur stdDeviation="1.7 1.15"/></filter><filter id="bl2" x="-20%" y="-50%" width="140%" height="200%"><feGaussianBlur stdDeviation="1.8 1.6"/></filter><filter id="bl3" x="-10%" y="-100%" width="120%" height="300%"><feGaussianBlur stdDeviation="4 2.5"/></filter>
<clipPath id="cb0"><rect x="490.5" y="331.7" width="263.2" height="30.8"/></clipPath>
<clipPath id="cb1"><rect x="490.5" y="368" width="263.2" height="33.7"/></clipPath>
<clipPath id="cb2"><rect x="490.5" y="407" width="263.2" height="26"/></clipPath>
</defs>
<rect x="490.5" y="331.7" width="263.2" height="30.8" fill="#f4f4f4"/>
<rect x="490.5" y="368" width="263.2" height="33.7" fill="#f4f4f4"/>
<rect x="490.5" y="407" width="263.2" height="26" fill="#f4f4f4"/>
<g clip-path="url(#cb0)">
<rect x="500" y="341" width="200" height="12" rx="3" fill="#000" opacity="0.05" filter="url(#bl3)"/>
<rect x="499.75" y="340.85" width="25.5" height="5.5" rx="2.75" fill="#000" opacity="0.34" filter="url(#bl2)"/>
<rect x="499.25" y="345.1" width="26.5" height="6.4" rx="3" fill="#000" opacity="1" filter="url(#bl)"/>
<rect x="501.75" y="346.9" width="21.5" height="3.6" rx="1.8" fill="#000" opacity="0.85" filter="url(#bl)"/>
<rect x="531.5" y="341.45" width="24" height="5.5" rx="2.75" fill="#000" opacity="0.24480000000000002" filter="url(#bl2)"/>
<rect x="531" y="346.2" width="25" height="5.4" rx="2.7" fill="#000" opacity="0.72" filter="url(#bl)"/>
<rect x="533.5" y="348" width="20" height="2.6" rx="1.3" fill="#000" opacity="0.85" filter="url(#bl)"/>
<rect x="561.25" y="341.05" width="23.5" height="5.5" rx="2.75" fill="#000" opacity="0.272" filter="url(#bl2)"/>
<rect x="560.75" y="346.2" width="24.5" height="4.6" rx="2.3" fill="#000" opacity="0.8" filter="url(#bl)"/>
<rect x="563.25" y="348" width="19.5" height="1.8" rx="0.9" fill="#000" opacity="0.85" filter="url(#bl)"/>
<rect x="592.5" y="346.6" width="21" height="3.4" rx="1.7" fill="#000" opacity="0.3" filter="url(#bl)"/>
<rect x="621.5" y="341.15" width="26" height="5.5" rx="2.75" fill="#000" opacity="0.34" filter="url(#bl2)"/>
<rect x="621" y="344.8" width="27" height="7.6" rx="3" fill="#000" opacity="1" filter="url(#bl)"/>
<rect x="623.5" y="346.6" width="22" height="4.8" rx="2.4" fill="#000" opacity="0.85" filter="url(#bl)"/>
<rect x="653.55" y="341.65" width="23.5" height="5.5" rx="2.75" fill="#000" opacity="0.323" filter="url(#bl2)"/>
<rect x="653.05" y="345.8" width="24.5" height="6.6" rx="3" fill="#000" opacity="0.95" filter="url(#bl)"/>
<rect x="655.55" y="347.6" width="19.5" height="3.8" rx="1.9" fill="#000" opacity="0.85" filter="url(#bl)"/>
<rect x="683" y="346.8" width="24" height="3.6" rx="1.8" fill="#000" opacity="0.3" filter="url(#bl)"/>
<rect x="718" y="346.8" width="18" height="3" rx="1.5" fill="#000" opacity="0.05" filter="url(#bl)"/>
</g><g clip-path="url(#cb1)">
<rect x="497" y="381.5" width="250" height="11" rx="3" fill="#000" opacity="0.1" filter="url(#bl3)"/>
<rect x="498.45" y="382.75" width="25.5" height="9.5" rx="3" fill="#000" opacity="0.2" filter="url(#bl2)"/>
<rect x="498.45" y="381.1" width="25.5" height="5" rx="2.5" fill="#000" opacity="0.88" filter="url(#bl)"/>
<rect x="500.95" y="382.5" width="20.5" height="2.6" rx="1.3" fill="#000" opacity="0.75" filter="url(#bl)"/>
<rect x="498.95" y="389.3" width="24.5" height="4.2" rx="2.1" fill="#000" opacity="0.3" filter="url(#bl2)"/>
<rect x="530.55" y="382.75" width="24.5" height="9.5" rx="3" fill="#000" opacity="0.2" filter="url(#bl2)"/>
<rect x="530.55" y="381.1" width="24.5" height="5" rx="2.5" fill="#000" opacity="0.82" filter="url(#bl)"/>
<rect x="533.05" y="382.5" width="19.5" height="2.6" rx="1.3" fill="#000" opacity="0.75" filter="url(#bl)"/>
<rect x="531.05" y="389.3" width="23.5" height="4.2" rx="2.1" fill="#000" opacity="0.26" filter="url(#bl2)"/>
<rect x="562" y="382.75" width="26" height="9.5" rx="3" fill="#000" opacity="0.2" filter="url(#bl2)"/>
<rect x="562" y="380.6" width="26" height="6" rx="3" fill="#000" opacity="0.95" filter="url(#bl)"/>
<rect x="564.5" y="382" width="21" height="3.6" rx="1.8" fill="#000" opacity="0.75" filter="url(#bl)"/>
<rect x="562.5" y="389.3" width="25" height="4.2" rx="2.1" fill="#000" opacity="0.34" filter="url(#bl2)"/>
<rect x="594.75" y="382.75" width="24.5" height="9.5" rx="3" fill="#000" opacity="0.2" filter="url(#bl2)"/>
<rect x="594.75" y="380.8" width="24.5" height="5.6" rx="2.8" fill="#000" opacity="0.93" filter="url(#bl)"/>
<rect x="597.25" y="382.2" width="19.5" height="3.2" rx="1.6" fill="#000" opacity="0.75" filter="url(#bl)"/>
<rect x="595.25" y="389.3" width="23.5" height="4.2" rx="2.1" fill="#000" opacity="0.55" filter="url(#bl2)"/>
<rect x="625.25" y="382.75" width="27.5" height="9.5" rx="3" fill="#000" opacity="0.2" filter="url(#bl2)"/>
<rect x="625.25" y="380.4" width="27.5" height="6.4" rx="3" fill="#000" opacity="1" filter="url(#bl)"/>
<rect x="627.75" y="381.8" width="22.5" height="4" rx="2" fill="#000" opacity="0.75" filter="url(#bl)"/>
<rect x="625.75" y="389.3" width="26.5" height="4.2" rx="2.1" fill="#000" opacity="0.5" filter="url(#bl2)"/>
<rect x="658.75" y="382.75" width="26.5" height="9.5" rx="3" fill="#000" opacity="0.2" filter="url(#bl2)"/>
<rect x="658.75" y="380.2" width="26.5" height="6.8" rx="3" fill="#000" opacity="1" filter="url(#bl)"/>
<rect x="661.25" y="381.6" width="21.5" height="4.4" rx="2.2" fill="#000" opacity="0.75" filter="url(#bl)"/>
<rect x="659.25" y="389.3" width="25.5" height="4.2" rx="2.1" fill="#000" opacity="0.62" filter="url(#bl2)"/>
<rect x="690.5" y="382.75" width="26" height="9.5" rx="3" fill="#000" opacity="0.2" filter="url(#bl2)"/>
<rect x="690.5" y="381.1" width="26" height="5" rx="2.5" fill="#000" opacity="0.86" filter="url(#bl)"/>
<rect x="693" y="382.5" width="21" height="2.6" rx="1.3" fill="#000" opacity="0.75" filter="url(#bl)"/>
<rect x="691" y="389.3" width="25" height="4.2" rx="2.1" fill="#000" opacity="0.4" filter="url(#bl2)"/>
<rect x="723.25" y="382.75" width="25.5" height="9.5" rx="3" fill="#000" opacity="0.2" filter="url(#bl2)"/>
<rect x="723.25" y="380.6" width="25.5" height="6" rx="3" fill="#000" opacity="1" filter="url(#bl)"/>
<rect x="725.75" y="382" width="20.5" height="3.6" rx="1.8" fill="#000" opacity="0.75" filter="url(#bl)"/>
<rect x="723.75" y="389.3" width="24.5" height="4.2" rx="2.1" fill="#000" opacity="0.95" filter="url(#bl2)"/>
</g><g clip-path="url(#cb2)">
<rect x="497" y="417.7" width="250" height="5" rx="2.5" fill="#000" opacity="0.06" filter="url(#bl3)"/>
<rect x="495.2" y="418.6" width="27" height="3.2" rx="1.6" fill="#000" opacity="0.78" filter="url(#bl)"/>
<rect x="498.2" y="419.4" width="21" height="1.8" rx="0.9" fill="#000" opacity="0.65" filter="url(#bl)"/>
<rect x="528.2" y="418.1" width="27" height="4.2" rx="2.1" fill="#000" opacity="0.95" filter="url(#bl)"/>
<rect x="531.2" y="418.9" width="21" height="2.8" rx="1.4" fill="#000" opacity="0.65" filter="url(#bl)"/>
<rect x="559.65" y="418.55" width="27.5" height="3.3" rx="1.65" fill="#000" opacity="0.84" filter="url(#bl)"/>
<rect x="562.65" y="419.35" width="21.5" height="1.9" rx="0.95" fill="#000" opacity="0.65" filter="url(#bl)"/>
<rect x="592" y="418.15" width="25" height="4.1" rx="2.05" fill="#000" opacity="0.95" filter="url(#bl)"/>
<rect x="595" y="418.95" width="19" height="2.7" rx="1.35" fill="#000" opacity="0.65" filter="url(#bl)"/>
<rect x="623.25" y="418.7" width="23.5" height="3" rx="1.5" fill="#000" opacity="0.68" filter="url(#bl)"/>
<rect x="626.25" y="419.5" width="17.5" height="1.6" rx="0.8" fill="#000" opacity="0.65" filter="url(#bl)"/>
<rect x="655.7" y="418.2" width="27" height="4" rx="2" fill="#000" opacity="0.95" filter="url(#bl)"/>
<rect x="658.7" y="419" width="21" height="2.6" rx="1.3" fill="#000" opacity="0.65" filter="url(#bl)"/>
<rect x="686.75" y="418.5" width="26.5" height="3.4" rx="1.7" fill="#000" opacity="0.9" filter="url(#bl)"/>
<rect x="689.75" y="419.3" width="20.5" height="2" rx="1" fill="#000" opacity="0.65" filter="url(#bl)"/>
<rect x="719.75" y="418.25" width="24.5" height="3.9" rx="1.95" fill="#000" opacity="0.95" filter="url(#bl)"/>
<rect x="722.75" y="419.05" width="18.5" height="2.5" rx="1.25" fill="#000" opacity="0.65" filter="url(#bl)"/>
</g>
<rect x="490.5" y="331.7" width="263.2" height="30.8" fill="none" stroke="#555" stroke-width="0.9"/>
<rect x="490.5" y="368" width="263.2" height="33.7" fill="none" stroke="#555" stroke-width="0.9"/>
<rect x="490.5" y="407" width="263.2" height="26" fill="none" stroke="#555" stroke-width="0.9"/>
</g>
<g id="panelD">
<text x="0" y="496.3" font-size="33.8" font-weight="bold" text-anchor="start" fill="#111">D</text>
<text x="69.5" y="494" font-size="16.75" font-weight="bold" text-anchor="start" fill="#000">NSG mice</text>
<line x1="67.5" y1="525.5" x2="67.5" y2="703" stroke="#3c3c3c" stroke-width="1.1"/>
<line x1="67" y1="702.5" x2="330.5" y2="702.5" stroke="#3c3c3c" stroke-width="1.1"/>
<line x1="63" y1="702.5" x2="67.5" y2="702.5" stroke="#3c3c3c" stroke-width="1"/>
<text x="61.2" y="706.3" font-size="10.6" font-weight="normal" text-anchor="end" fill="#000" stroke="#000" stroke-width="0.2">0</text>
<line x1="63" y1="658.25" x2="67.5" y2="658.25" stroke="#3c3c3c" stroke-width="1"/>
<text x="61.2" y="662.05" font-size="10.6" font-weight="normal" text-anchor="end" fill="#000" stroke="#000" stroke-width="0.2">300</text>
<line x1="63" y1="614" x2="67.5" y2="614" stroke="#3c3c3c" stroke-width="1"/>
<text x="61.2" y="617.8" font-size="10.6" font-weight="normal" text-anchor="end" fill="#000" stroke="#000" stroke-width="0.2">600</text>
<line x1="63" y1="569.75" x2="67.5" y2="569.75" stroke="#3c3c3c" stroke-width="1"/>
<text x="61.2" y="573.55" font-size="10.6" font-weight="normal" text-anchor="end" fill="#000" stroke="#000" stroke-width="0.2">900</text>
<line x1="63" y1="525.5" x2="67.5" y2="525.5" stroke="#3c3c3c" stroke-width="1"/>
<text x="61.2" y="529.3" font-size="10.6" font-weight="normal" text-anchor="end" fill="#000" stroke="#000" stroke-width="0.2">1200</text>
<line x1="64.9" y1="680.38" x2="67.5" y2="680.38" stroke="#3c3c3c" stroke-width="0.9"/>
<line x1="64.9" y1="636.12" x2="67.5" y2="636.12" stroke="#3c3c3c" stroke-width="0.9"/>
<line x1="64.9" y1="591.88" x2="67.5" y2="591.88" stroke="#3c3c3c" stroke-width="0.9"/>
<line x1="64.9" y1="547.62" x2="67.5" y2="547.62" stroke="#3c3c3c" stroke-width="0.9"/>
<line x1="67.5" y1="702.5" x2="67.5" y2="707.3" stroke="#3c3c3c" stroke-width="1"/>
<text x="67" y="719.8" font-size="10.6" font-weight="normal" text-anchor="middle" fill="#000" stroke="#000" stroke-width="0.2">0</text>
<line x1="133.1" y1="702.5" x2="133.1" y2="707.3" stroke="#3c3c3c" stroke-width="1"/>
<text x="132.6" y="719.8" font-size="10.6" font-weight="normal" text-anchor="middle" fill="#000" stroke="#000" stroke-width="0.2">5</text>
<line x1="198.7" y1="702.5" x2="198.7" y2="707.3" stroke="#3c3c3c" stroke-width="1"/>
<text x="198.2" y="719.8" font-size="10.6" font-weight="normal" text-anchor="middle" fill="#000" stroke="#000" stroke-width="0.2">10</text>
<line x1="264.3" y1="702.5" x2="264.3" y2="707.3" stroke="#3c3c3c" stroke-width="1"/>
<text x="263.8" y="719.8" font-size="10.6" font-weight="normal" text-anchor="middle" fill="#000" stroke="#000" stroke-width="0.2">15</text>
<line x1="329.9" y1="702.5" x2="329.9" y2="707.3" stroke="#3c3c3c" stroke-width="1"/>
<text x="329.4" y="719.8" font-size="10.6" font-weight="normal" text-anchor="middle" fill="#000" stroke="#000" stroke-width="0.2">20</text>
<line x1="100.3" y1="702.5" x2="100.3" y2="705.3" stroke="#3c3c3c" stroke-width="0.9"/>
<line x1="165.9" y1="702.5" x2="165.9" y2="705.3" stroke="#3c3c3c" stroke-width="0.9"/>
<line x1="231.5" y1="702.5" x2="231.5" y2="705.3" stroke="#3c3c3c" stroke-width="0.9"/>
<line x1="297.1" y1="702.5" x2="297.1" y2="705.3" stroke="#3c3c3c" stroke-width="0.9"/>
<text x="30.6" y="617" font-size="11.6" font-weight="bold" text-anchor="middle" fill="#000" transform="rotate(-90 30.6 617)">Tumor Volume (mm<tspan font-size="7.5" dy="-3.6">3</tspan><tspan dy="3.6">)</tspan></text>
<text x="188.5" y="738.8" font-size="11.55" font-weight="bold" text-anchor="middle" fill="#000">Days on treatment</text>
<line x1="80.62" y1="664" x2="80.62" y2="680" stroke="#ee3a14" stroke-width="1.25"/>
<line x1="76.92" y1="664" x2="84.32" y2="664" stroke="#ee3a14" stroke-width="1.25"/>
<line x1="76.92" y1="680" x2="84.32" y2="680" stroke="#ee3a14" stroke-width="1.25"/>
<line x1="119.98" y1="632.8" x2="119.98" y2="661.5" stroke="#ee3a14" stroke-width="1.25"/>
<line x1="116.28" y1="632.8" x2="123.68" y2="632.8" stroke="#ee3a14" stroke-width="1.25"/>
<line x1="116.28" y1="661.5" x2="123.68" y2="661.5" stroke="#ee3a14" stroke-width="1.25"/>
<line x1="146.22" y1="621.3" x2="146.22" y2="640.8" stroke="#ee3a14" stroke-width="1.25"/>
<line x1="142.52" y1="621.3" x2="149.92" y2="621.3" stroke="#ee3a14" stroke-width="1.25"/>
<line x1="142.52" y1="640.8" x2="149.92" y2="640.8" stroke="#ee3a14" stroke-width="1.25"/>
<line x1="172.46" y1="564.8" x2="172.46" y2="621.4" stroke="#ee3a14" stroke-width="1.25"/>
<line x1="168.76" y1="564.8" x2="176.16" y2="564.8" stroke="#ee3a14" stroke-width="1.25"/>
<line x1="168.76" y1="621.4" x2="176.16" y2="621.4" stroke="#ee3a14" stroke-width="1.25"/>
<line x1="80.62" y1="665.6" x2="80.62" y2="682" stroke="#ee3a14" stroke-width="1.25"/>
<line x1="76.92" y1="665.6" x2="84.32" y2="665.6" stroke="#ee3a14" stroke-width="1.25"/>
<line x1="76.92" y1="682" x2="84.32" y2="682" stroke="#ee3a14" stroke-width="1.25"/>
<line x1="119.98" y1="632.8" x2="119.98" y2="664.4" stroke="#ee3a14" stroke-width="1.25"/>
<line x1="116.28" y1="632.8" x2="123.68" y2="632.8" stroke="#ee3a14" stroke-width="1.25"/>
<line x1="116.28" y1="664.4" x2="123.68" y2="664.4" stroke="#ee3a14" stroke-width="1.25"/>
<line x1="146.22" y1="620.5" x2="146.22" y2="644.5" stroke="#ee3a14" stroke-width="1.25"/>
<line x1="142.52" y1="620.5" x2="149.92" y2="620.5" stroke="#ee3a14" stroke-width="1.25"/>
<line x1="142.52" y1="644.5" x2="149.92" y2="644.5" stroke="#ee3a14" stroke-width="1.25"/>
<line x1="172.46" y1="542" x2="172.46" y2="596.7" stroke="#ee3a14" stroke-width="1.25"/>
<line x1="168.76" y1="542" x2="176.16" y2="542" stroke="#ee3a14" stroke-width="1.25"/>
<line x1="168.76" y1="596.7" x2="176.16" y2="596.7" stroke="#ee3a14" stroke-width="1.25"/>
<line x1="80.62" y1="667" x2="80.62" y2="677" stroke="#808080" stroke-width="1.25"/>
<line x1="76.92" y1="667" x2="84.32" y2="667" stroke="#808080" stroke-width="1.25"/>
<line x1="76.92" y1="677" x2="84.32" y2="677" stroke="#808080" stroke-width="1.25"/>
<line x1="119.98" y1="669.5" x2="119.98" y2="684" stroke="#808080" stroke-width="1.25"/>
<line x1="116.28" y1="669.5" x2="123.68" y2="669.5" stroke="#808080" stroke-width="1.25"/>
<line x1="116.28" y1="684" x2="123.68" y2="684" stroke="#808080" stroke-width="1.25"/>
<line x1="146.22" y1="662" x2="146.22" y2="678" stroke="#808080" stroke-width="1.25"/>
<line x1="142.52" y1="662" x2="149.92" y2="662" stroke="#808080" stroke-width="1.25"/>
<line x1="142.52" y1="678" x2="149.92" y2="678" stroke="#808080" stroke-width="1.25"/>
<line x1="172.46" y1="658.8" x2="172.46" y2="677" stroke="#808080" stroke-width="1.25"/>
<line x1="168.76" y1="658.8" x2="176.16" y2="658.8" stroke="#808080" stroke-width="1.25"/>
<line x1="168.76" y1="677" x2="176.16" y2="677" stroke="#808080" stroke-width="1.25"/>
<line x1="198.7" y1="643" x2="198.7" y2="671.6" stroke="#808080" stroke-width="1.25"/>
<line x1="195" y1="643" x2="202.4" y2="643" stroke="#808080" stroke-width="1.25"/>
<line x1="195" y1="671.6" x2="202.4" y2="671.6" stroke="#808080" stroke-width="1.25"/>
<line x1="224.94" y1="612.6" x2="224.94" y2="651.5" stroke="#808080" stroke-width="1.25"/>
<line x1="221.24" y1="612.6" x2="228.64" y2="612.6" stroke="#808080" stroke-width="1.25"/>
<line x1="221.24" y1="651.5" x2="228.64" y2="651.5" stroke="#808080" stroke-width="1.25"/>
<line x1="251.18" y1="607.4" x2="251.18" y2="650.6" stroke="#808080" stroke-width="1.25"/>
<line x1="247.48" y1="607.4" x2="254.88" y2="607.4" stroke="#808080" stroke-width="1.25"/>
<line x1="247.48" y1="650.6" x2="254.88" y2="650.6" stroke="#808080" stroke-width="1.25"/>
<line x1="277.42" y1="570.3" x2="277.42" y2="635.3" stroke="#808080" stroke-width="1.25"/>
<line x1="273.72" y1="570.3" x2="281.12" y2="570.3" stroke="#808080" stroke-width="1.25"/>
<line x1="273.72" y1="635.3" x2="281.12" y2="635.3" stroke="#808080" stroke-width="1.25"/>
<line x1="80.62" y1="669" x2="80.62" y2="678.5" stroke="#808080" stroke-width="1.25"/>
<line x1="76.92" y1="669" x2="84.32" y2="669" stroke="#808080" stroke-width="1.25"/>
<line x1="76.92" y1="678.5" x2="84.32" y2="678.5" stroke="#808080" stroke-width="1.25"/>
<line x1="119.98" y1="621.8" x2="119.98" y2="658.5" stroke="#808080" stroke-width="1.25"/>
<line x1="116.28" y1="621.8" x2="123.68" y2="621.8" stroke="#808080" stroke-width="1.25"/>
<line x1="116.28" y1="658.5" x2="123.68" y2="658.5" stroke="#808080" stroke-width="1.25"/>
<line x1="146.22" y1="570.3" x2="146.22" y2="625" stroke="#808080" stroke-width="1.25"/>
<line x1="142.52" y1="570.3" x2="149.92" y2="570.3" stroke="#808080" stroke-width="1.25"/>
<line x1="142.52" y1="625" x2="149.92" y2="625" stroke="#808080" stroke-width="1.25"/>
<polyline points="80.62,672 119.98,677 146.22,670.3 172.46,668 198.7,657.6 224.94,632.2 251.18,629.1 277.42,603.2" fill="none" stroke="#808080" stroke-width="1.2" stroke-linejoin="round" stroke-dasharray="5,3"/>
<polyline points="80.62,673.7 119.98,640.3 146.22,597.7" fill="none" stroke="#808080" stroke-width="1.25" stroke-linejoin="round"/>
<polyline points="80.62,671.2 119.98,646.7 146.22,621.3 172.46,593.5" fill="none" stroke="#ee3a14" stroke-width="1.2" stroke-linejoin="round" stroke-dasharray="5,3"/>
<polyline points="80.62,672.9 119.98,652.6 146.22,620.5 172.46,569.3" fill="none" stroke="#ee3a14" stroke-width="1.25" stroke-linejoin="round"/>
<circle cx="80.62" cy="672" r="3" fill="#fff" stroke="#808080" stroke-width="1.15"/>
<circle cx="119.98" cy="677" r="3" fill="#fff" stroke="#808080" stroke-width="1.15"/>
<circle cx="146.22" cy="670.3" r="3" fill="#fff" stroke="#808080" stroke-width="1.15"/>
<circle cx="172.46" cy="668" r="3" fill="#fff" stroke="#808080" stroke-width="1.15"/>
<circle cx="198.7" cy="657.6" r="3" fill="#fff" stroke="#808080" stroke-width="1.15"/>
<circle cx="224.94" cy="632.2" r="3" fill="#fff" stroke="#808080" stroke-width="1.15"/>
<circle cx="251.18" cy="629.1" r="3" fill="#fff" stroke="#808080" stroke-width="1.15"/>
<circle cx="277.42" cy="603.2" r="3" fill="#fff" stroke="#808080" stroke-width="1.15"/>
<circle cx="80.62" cy="671.2" r="3" fill="#fff" stroke="#ee3a14" stroke-width="1.15"/>
<circle cx="119.98" cy="646.7" r="3" fill="#fff" stroke="#ee3a14" stroke-width="1.15"/>
<circle cx="146.22" cy="621.3" r="3" fill="#fff" stroke="#ee3a14" stroke-width="1.15"/>
<circle cx="172.46" cy="593.5" r="3" fill="#fff" stroke="#ee3a14" stroke-width="1.15"/>
<circle cx="80.62" cy="672.9" r="2.8" fill="#ee3a14"/>
<circle cx="119.98" cy="652.6" r="2.8" fill="#ee3a14"/>
<circle cx="146.22" cy="620.5" r="2.8" fill="#ee3a14"/>
<circle cx="172.46" cy="569.3" r="2.8" fill="#ee3a14"/>
<rect x="77.82" y="670.9" width="5.6" height="5.6" fill="#808080"/>
<path d="M119.98,637 L123.38,640.3 L119.98,643.6 L116.58,640.3Z" fill="#808080"/>
<path d="M146.22,594.4 L149.62,597.7 L146.22,601 L142.82,597.7Z" fill="#808080"/>
<line x1="399.5" y1="525.7" x2="399.5" y2="703" stroke="#3c3c3c" stroke-width="1.1"/>
<line x1="399" y1="702.5" x2="661.5" y2="702.5" stroke="#3c3c3c" stroke-width="1.1"/>
<line x1="395" y1="702.5" x2="399.5" y2="702.5" stroke="#3c3c3c" stroke-width="1"/>
<text x="392.5" y="704.7" font-size="10.6" font-weight="normal" text-anchor="end" fill="#000" stroke="#000" stroke-width="0.2">0</text>
<line x1="395" y1="621.85" x2="399.5" y2="621.85" stroke="#3c3c3c" stroke-width="1"/>
<text x="392.5" y="625.45" font-size="10.6" font-weight="normal" text-anchor="end" fill="#000" stroke="#000" stroke-width="0.2">50</text>
<line x1="395" y1="541.2" x2="399.5" y2="541.2" stroke="#3c3c3c" stroke-width="1"/>
<text x="392.5" y="544.8" font-size="10.6" font-weight="normal" text-anchor="end" fill="#000" stroke="#000" stroke-width="0.2">100</text>
<line x1="396.9" y1="662.17" x2="399.5" y2="662.17" stroke="#3c3c3c" stroke-width="0.9"/>
<line x1="396.9" y1="581.53" x2="399.5" y2="581.53" stroke="#3c3c3c" stroke-width="0.9"/>
<line x1="399.5" y1="702.5" x2="399.5" y2="707.3" stroke="#3c3c3c" stroke-width="1"/>
<text x="399.5" y="719.8" font-size="10.6" font-weight="normal" text-anchor="middle" fill="#000" stroke="#000" stroke-width="0.2">0</text>
<line x1="486.7" y1="702.5" x2="486.7" y2="707.3" stroke="#3c3c3c" stroke-width="1"/>
<text x="486.7" y="719.8" font-size="10.6" font-weight="normal" text-anchor="middle" fill="#000" stroke="#000" stroke-width="0.2">10</text>
<line x1="573.9" y1="702.5" x2="573.9" y2="707.3" stroke="#3c3c3c" stroke-width="1"/>
<text x="573.9" y="719.8" font-size="10.6" font-weight="normal" text-anchor="middle" fill="#000" stroke="#000" stroke-width="0.2">20</text>
<line x1="661.1" y1="702.5" x2="661.1" y2="707.3" stroke="#3c3c3c" stroke-width="1"/>
<text x="661.1" y="719.8" font-size="10.6" font-weight="normal" text-anchor="middle" fill="#000" stroke="#000" stroke-width="0.2">30</text>
<line x1="443.1" y1="702.5" x2="443.1" y2="705.3" stroke="#3c3c3c" stroke-width="0.9"/>
<line x1="530.3" y1="702.5" x2="530.3" y2="705.3" stroke="#3c3c3c" stroke-width="0.9"/>
<line x1="617.5" y1="702.5" x2="617.5" y2="705.3" stroke="#3c3c3c" stroke-width="0.9"/>
<text x="527" y="736.2" font-size="11.55" font-weight="bold" text-anchor="middle" fill="#000">Days on treatment</text>
<text x="372.9" y="616.5" font-size="11.75" font-weight="bold" text-anchor="middle" fill="#000" transform="rotate(-90 372.9 616.5)">Probability of Survival</text>
<line x1="486.7" y1="594.91" x2="504.14" y2="594.91" stroke="#ee3a14" stroke-width="1.8" stroke-dasharray="9.5,3.6"/>
<line x1="504.14" y1="594.91" x2="504.14" y2="648.79" stroke="#ee3a14" stroke-width="1.8" stroke-dasharray="9.5,3.6"/>
<rect x="503.24" y="594.01" width="1.8" height="1.8" fill="#ee3a14"/>
<line x1="521.58" y1="648.79" x2="565.18" y2="648.79" stroke="#ee3a14" stroke-width="1.8" stroke-dasharray="9.5,3.6"/>
<line x1="565.18" y1="648.79" x2="565.18" y2="675.56" stroke="#ee3a14" stroke-width="1.8" stroke-dasharray="9.5,3.6"/>
<rect x="564.28" y="647.89" width="1.8" height="1.8" fill="#ee3a14"/>
<polyline points="465.77,541.2 469.26,541.2 469.26,594.91 486.7,594.91 486.7,648.79" fill="none" stroke="#ee3a14" stroke-width="1.8" stroke-linejoin="miter"/>
<polyline points="539.02,675.56 565.18,675.56 565.18,702.5" fill="none" stroke="#ee3a14" stroke-width="1.8" stroke-linejoin="miter"/>
<polyline points="399.5,541.2 451.82,541.2 451.82,568.14 460.54,568.14 460.54,594.91 469.26,594.91 469.26,648.79 521.58,648.79 521.58,675.56 539.02,675.56 539.02,702.5" fill="none" stroke="#808080" stroke-width="1.65" stroke-linejoin="miter"/>
<line x1="399.5" y1="541.2" x2="465.77" y2="541.2" stroke="#808080" stroke-width="1.65"/>
<line x1="476.8" y1="541.2" x2="539.02" y2="541.2" stroke="#808080" stroke-width="1.65" stroke-dasharray="12,6.4"/>
<line x1="539.02" y1="541.2" x2="539.02" y2="568.14" stroke="#808080" stroke-width="1.65" stroke-dasharray="12,6.4"/>
<line x1="539.02" y1="568.14" x2="565.18" y2="568.14" stroke="#808080" stroke-width="1.65" stroke-dasharray="12,6.4"/>
<line x1="565.18" y1="568.14" x2="565.18" y2="621.85" stroke="#808080" stroke-width="1.65" stroke-dasharray="12,6.4"/>
<line x1="565.18" y1="621.85" x2="600.06" y2="621.85" stroke="#808080" stroke-width="1.65" stroke-dasharray="12,6.4"/>
<line x1="600.06" y1="621.85" x2="600.06" y2="675.56" stroke="#808080" stroke-width="1.65" stroke-dasharray="12,6.4"/>
<line x1="600.06" y1="675.56" x2="634.94" y2="675.56" stroke="#808080" stroke-width="1.65" stroke-dasharray="12,6.4"/>
<line x1="634.94" y1="675.56" x2="634.94" y2="702.5" stroke="#808080" stroke-width="1.65" stroke-dasharray="12,6.4"/>
<rect x="538.19" y="540.38" width="1.65" height="1.65" fill="#808080"/>
<rect x="538.19" y="567.31" width="1.65" height="1.65" fill="#808080"/>
<rect x="564.36" y="567.31" width="1.65" height="1.65" fill="#808080"/>
<rect x="564.36" y="621.02" width="1.65" height="1.65" fill="#808080"/>
<rect x="599.23" y="621.02" width="1.65" height="1.65" fill="#808080"/>
<rect x="599.23" y="674.74" width="1.65" height="1.65" fill="#808080"/>
<rect x="634.12" y="674.74" width="1.65" height="1.65" fill="#808080"/>
<line x1="659.7" y1="534.6" x2="681.1" y2="534.6" stroke="#808080" stroke-width="1.5"/>
<circle cx="670.4" cy="534.6" r="4.6" fill="#808080"/>
<text x="690.4" y="539.3" font-size="13.5" font-weight="bold" text-anchor="start" fill="#000">Parental Vehicle</text>
<line x1="659.7" y1="555" x2="681.1" y2="555" stroke="#808080" stroke-width="1.5"/>
<circle cx="670.4" cy="555" r="4.3" fill="#fff" stroke="#808080" stroke-width="1.4"/>
<line x1="659.7" y1="555" x2="670.4" y2="555" stroke="#808080" stroke-width="1.5"/>
<text x="690.4" y="559.4" font-size="13.5" font-weight="bold" text-anchor="start" fill="#000">Parental TT</text>
<line x1="659.7" y1="575" x2="681.1" y2="575" stroke="#ff5200" stroke-width="1.5"/>
<circle cx="670.4" cy="575" r="4.6" fill="#ff5200"/>
<text x="690.4" y="579.8" font-size="13.5" font-weight="bold" text-anchor="start" fill="#000">AR Vehicle</text>
<line x1="659.7" y1="597.3" x2="681.1" y2="597.3" stroke="#ff5200" stroke-width="1.5"/>
<circle cx="670.4" cy="597.3" r="4.3" fill="#fff" stroke="#ff5200" stroke-width="1.4"/>
<line x1="659.7" y1="597.3" x2="670.4" y2="597.3" stroke="#ff5200" stroke-width="1.5"/>
<text x="690.4" y="600" font-size="13.5" font-weight="bold" text-anchor="start" fill="#000">AR TT</text>
<line x1="803.3" y1="534.4" x2="803.3" y2="554.5" stroke="#222" stroke-width="1.1"/>
<text x="806.3" y="550.8" font-size="16.5" font-weight="bold" text-anchor="start" fill="#111" stroke="#111" stroke-width="0.4" stroke-linejoin="round">**</text>
</g>
<g id="panelE">
<text x="0.3" y="772.6" font-size="33.8" font-weight="bold" text-anchor="start" fill="#111">E</text>
<text x="67.5" y="774.2" font-size="16.85" font-weight="bold" text-anchor="start" fill="#000">C57BL/6 mice</text>
<line x1="67.5" y1="796.2" x2="67.5" y2="975" stroke="#3c3c3c" stroke-width="1.1"/>
<line x1="67" y1="974.5" x2="332" y2="974.5" stroke="#3c3c3c" stroke-width="1.1"/>
<line x1="63" y1="974.5" x2="67.5" y2="974.5" stroke="#3c3c3c" stroke-width="1"/>
<text x="61.2" y="978.3" font-size="10.6" font-weight="normal" text-anchor="end" fill="#000" stroke="#000" stroke-width="0.2">0</text>
<line x1="63" y1="929.92" x2="67.5" y2="929.92" stroke="#3c3c3c" stroke-width="1"/>
<text x="61.2" y="933.72" font-size="10.6" font-weight="normal" text-anchor="end" fill="#000" stroke="#000" stroke-width="0.2">300</text>
<line x1="63" y1="885.35" x2="67.5" y2="885.35" stroke="#3c3c3c" stroke-width="1"/>
<text x="61.2" y="889.15" font-size="10.6" font-weight="normal" text-anchor="end" fill="#000" stroke="#000" stroke-width="0.2">600</text>
<line x1="63" y1="840.78" x2="67.5" y2="840.78" stroke="#3c3c3c" stroke-width="1"/>
<text x="61.2" y="844.58" font-size="10.6" font-weight="normal" text-anchor="end" fill="#000" stroke="#000" stroke-width="0.2">900</text>
<line x1="63" y1="796.2" x2="67.5" y2="796.2" stroke="#3c3c3c" stroke-width="1"/>
<text x="61.2" y="800" font-size="10.6" font-weight="normal" text-anchor="end" fill="#000" stroke="#000" stroke-width="0.2">1200</text>
<line x1="64.9" y1="952.21" x2="67.5" y2="952.21" stroke="#3c3c3c" stroke-width="0.9"/>
<line x1="64.9" y1="907.64" x2="67.5" y2="907.64" stroke="#3c3c3c" stroke-width="0.9"/>
<line x1="64.9" y1="863.06" x2="67.5" y2="863.06" stroke="#3c3c3c" stroke-width="0.9"/>
<line x1="64.9" y1="818.49" x2="67.5" y2="818.49" stroke="#3c3c3c" stroke-width="0.9"/>
<line x1="67.5" y1="974.5" x2="67.5" y2="979.3" stroke="#3c3c3c" stroke-width="1"/>
<text x="67" y="991.7" font-size="10.6" font-weight="normal" text-anchor="middle" fill="#000" stroke="#000" stroke-width="0.2">0</text>
<line x1="120.3" y1="974.5" x2="120.3" y2="979.3" stroke="#3c3c3c" stroke-width="1"/>
<text x="119.8" y="991.7" font-size="10.6" font-weight="normal" text-anchor="middle" fill="#000" stroke="#000" stroke-width="0.2">5</text>
<line x1="173.1" y1="974.5" x2="173.1" y2="979.3" stroke="#3c3c3c" stroke-width="1"/>
<text x="172.6" y="991.7" font-size="10.6" font-weight="normal" text-anchor="middle" fill="#000" stroke="#000" stroke-width="0.2">10</text>
<line x1="225.9" y1="974.5" x2="225.9" y2="979.3" stroke="#3c3c3c" stroke-width="1"/>
<text x="225.4" y="991.7" font-size="10.6" font-weight="normal" text-anchor="middle" fill="#000" stroke="#000" stroke-width="0.2">15</text>
<line x1="278.7" y1="974.5" x2="278.7" y2="979.3" stroke="#3c3c3c" stroke-width="1"/>
<text x="278.2" y="991.7" font-size="10.6" font-weight="normal" text-anchor="middle" fill="#000" stroke="#000" stroke-width="0.2">20</text>
<line x1="331.5" y1="974.5" x2="331.5" y2="979.3" stroke="#3c3c3c" stroke-width="1"/>
<text x="331" y="991.7" font-size="10.6" font-weight="normal" text-anchor="middle" fill="#000" stroke="#000" stroke-width="0.2">25</text>
<line x1="93.9" y1="974.5" x2="93.9" y2="977.3" stroke="#3c3c3c" stroke-width="0.9"/>
<line x1="146.7" y1="974.5" x2="146.7" y2="977.3" stroke="#3c3c3c" stroke-width="0.9"/>
<line x1="199.5" y1="974.5" x2="199.5" y2="977.3" stroke="#3c3c3c" stroke-width="0.9"/>
<line x1="252.3" y1="974.5" x2="252.3" y2="977.3" stroke="#3c3c3c" stroke-width="0.9"/>
<line x1="305.1" y1="974.5" x2="305.1" y2="977.3" stroke="#3c3c3c" stroke-width="0.9"/>
<text x="30.6" y="887" font-size="11.6" font-weight="bold" text-anchor="middle" fill="#000" transform="rotate(-90 30.6 887)">Tumor Volume (mm<tspan font-size="7.5" dy="-3.6">3</tspan><tspan dy="3.6">)</tspan></text>
<text x="188.5" y="1007.4" font-size="11.55" font-weight="bold" text-anchor="middle" fill="#000">Days on treatment</text>
<line x1="78.06" y1="939" x2="78.06" y2="948" stroke="#808080" stroke-width="1.25"/>
<line x1="74.36" y1="939" x2="81.76" y2="939" stroke="#808080" stroke-width="1.25"/>
<line x1="74.36" y1="948" x2="81.76" y2="948" stroke="#808080" stroke-width="1.25"/>
<line x1="99.18" y1="943.5" x2="99.18" y2="954.7" stroke="#808080" stroke-width="1.25"/>
<line x1="95.48" y1="943.5" x2="102.88" y2="943.5" stroke="#808080" stroke-width="1.25"/>
<line x1="95.48" y1="954.7" x2="102.88" y2="954.7" stroke="#808080" stroke-width="1.25"/>
<line x1="141.42" y1="952.7" x2="141.42" y2="960.5" stroke="#808080" stroke-width="1.25"/>
<line x1="137.72" y1="952.7" x2="145.12" y2="952.7" stroke="#808080" stroke-width="1.25"/>
<line x1="137.72" y1="960.5" x2="145.12" y2="960.5" stroke="#808080" stroke-width="1.25"/>
<line x1="173.1" y1="941" x2="173.1" y2="956" stroke="#808080" stroke-width="1.25"/>
<line x1="169.4" y1="941" x2="176.8" y2="941" stroke="#808080" stroke-width="1.25"/>
<line x1="169.4" y1="956" x2="176.8" y2="956" stroke="#808080" stroke-width="1.25"/>
<line x1="204.78" y1="941.1" x2="204.78" y2="957.4" stroke="#808080" stroke-width="1.25"/>
<line x1="201.08" y1="941.1" x2="208.48" y2="941.1" stroke="#808080" stroke-width="1.25"/>
<line x1="201.08" y1="957.4" x2="208.48" y2="957.4" stroke="#808080" stroke-width="1.25"/>
<line x1="225.9" y1="939.6" x2="225.9" y2="955" stroke="#808080" stroke-width="1.25"/>
<line x1="222.2" y1="939.6" x2="229.6" y2="939.6" stroke="#808080" stroke-width="1.25"/>
<line x1="222.2" y1="955" x2="229.6" y2="955" stroke="#808080" stroke-width="1.25"/>
<line x1="247.02" y1="929.6" x2="247.02" y2="950.9" stroke="#808080" stroke-width="1.25"/>
<line x1="243.32" y1="929.6" x2="250.72" y2="929.6" stroke="#808080" stroke-width="1.25"/>
<line x1="243.32" y1="950.9" x2="250.72" y2="950.9" stroke="#808080" stroke-width="1.25"/>
<line x1="278.7" y1="887.5" x2="278.7" y2="924.6" stroke="#808080" stroke-width="1.25"/>
<line x1="275" y1="887.5" x2="282.4" y2="887.5" stroke="#808080" stroke-width="1.25"/>
<line x1="275" y1="924.6" x2="282.4" y2="924.6" stroke="#808080" stroke-width="1.25"/>
<line x1="299.82" y1="861.6" x2="299.82" y2="911.1" stroke="#808080" stroke-width="1.25"/>
<line x1="296.12" y1="861.6" x2="303.52" y2="861.6" stroke="#808080" stroke-width="1.25"/>
<line x1="296.12" y1="911.1" x2="303.52" y2="911.1" stroke="#808080" stroke-width="1.25"/>
<line x1="78.06" y1="938" x2="78.06" y2="948" stroke="#808080" stroke-width="1.25"/>
<line x1="74.36" y1="938" x2="81.76" y2="938" stroke="#808080" stroke-width="1.25"/>
<line x1="74.36" y1="948" x2="81.76" y2="948" stroke="#808080" stroke-width="1.25"/>
<line x1="99.18" y1="927.8" x2="99.18" y2="946" stroke="#808080" stroke-width="1.25"/>
<line x1="95.48" y1="927.8" x2="102.88" y2="927.8" stroke="#808080" stroke-width="1.25"/>
<line x1="95.48" y1="946" x2="102.88" y2="946" stroke="#808080" stroke-width="1.25"/>
<line x1="141.42" y1="897.3" x2="141.42" y2="927.8" stroke="#808080" stroke-width="1.25"/>
<line x1="137.72" y1="897.3" x2="145.12" y2="897.3" stroke="#808080" stroke-width="1.25"/>
<line x1="137.72" y1="927.8" x2="145.12" y2="927.8" stroke="#808080" stroke-width="1.25"/>
<line x1="173.1" y1="853.6" x2="173.1" y2="896.8" stroke="#808080" stroke-width="1.25"/>
<line x1="169.4" y1="853.6" x2="176.8" y2="853.6" stroke="#808080" stroke-width="1.25"/>
<line x1="169.4" y1="896.8" x2="176.8" y2="896.8" stroke="#808080" stroke-width="1.25"/>
<line x1="78.06" y1="937" x2="78.06" y2="947" stroke="#ee3a14" stroke-width="1.25"/>
<line x1="74.36" y1="937" x2="81.76" y2="937" stroke="#ee3a14" stroke-width="1.25"/>
<line x1="74.36" y1="947" x2="81.76" y2="947" stroke="#ee3a14" stroke-width="1.25"/>
<line x1="99.18" y1="929.8" x2="99.18" y2="944.8" stroke="#ee3a14" stroke-width="1.25"/>
<line x1="95.48" y1="929.8" x2="102.88" y2="929.8" stroke="#ee3a14" stroke-width="1.25"/>
<line x1="95.48" y1="944.8" x2="102.88" y2="944.8" stroke="#ee3a14" stroke-width="1.25"/>
<line x1="141.42" y1="931" x2="141.42" y2="946" stroke="#ee3a14" stroke-width="1.25"/>
<line x1="137.72" y1="931" x2="145.12" y2="931" stroke="#ee3a14" stroke-width="1.25"/>
<line x1="137.72" y1="946" x2="145.12" y2="946" stroke="#ee3a14" stroke-width="1.25"/>
<line x1="173.1" y1="922.3" x2="173.1" y2="941" stroke="#ee3a14" stroke-width="1.25"/>
<line x1="169.4" y1="922.3" x2="176.8" y2="922.3" stroke="#ee3a14" stroke-width="1.25"/>
<line x1="169.4" y1="941" x2="176.8" y2="941" stroke="#ee3a14" stroke-width="1.25"/>
<line x1="204.78" y1="898.1" x2="204.78" y2="916.1" stroke="#ee3a14" stroke-width="1.25"/>
<line x1="201.08" y1="898.1" x2="208.48" y2="898.1" stroke="#ee3a14" stroke-width="1.25"/>
<line x1="201.08" y1="916.1" x2="208.48" y2="916.1" stroke="#ee3a14" stroke-width="1.25"/>
<line x1="225.9" y1="893.1" x2="225.9" y2="912.9" stroke="#ee3a14" stroke-width="1.25"/>
<line x1="222.2" y1="893.1" x2="229.6" y2="893.1" stroke="#ee3a14" stroke-width="1.25"/>
<line x1="222.2" y1="912.9" x2="229.6" y2="912.9" stroke="#ee3a14" stroke-width="1.25"/>
<line x1="247.02" y1="881.2" x2="247.02" y2="904.2" stroke="#ee3a14" stroke-width="1.25"/>
<line x1="243.32" y1="881.2" x2="250.72" y2="881.2" stroke="#ee3a14" stroke-width="1.25"/>
<line x1="243.32" y1="904.2" x2="250.72" y2="904.2" stroke="#ee3a14" stroke-width="1.25"/>
<line x1="278.7" y1="836.2" x2="278.7" y2="869.2" stroke="#ee3a14" stroke-width="1.25"/>
<line x1="275" y1="836.2" x2="282.4" y2="836.2" stroke="#ee3a14" stroke-width="1.25"/>
<line x1="275" y1="869.2" x2="282.4" y2="869.2" stroke="#ee3a14" stroke-width="1.25"/>
<line x1="78.06" y1="936" x2="78.06" y2="946.5" stroke="#ee3a14" stroke-width="1.25"/>
<line x1="74.36" y1="936" x2="81.76" y2="936" stroke="#ee3a14" stroke-width="1.25"/>
<line x1="74.36" y1="946.5" x2="81.76" y2="946.5" stroke="#ee3a14" stroke-width="1.25"/>
<line x1="99.18" y1="923.6" x2="99.18" y2="946" stroke="#ee3a14" stroke-width="1.25"/>
<line x1="95.48" y1="923.6" x2="102.88" y2="923.6" stroke="#ee3a14" stroke-width="1.25"/>
<line x1="95.48" y1="946" x2="102.88" y2="946" stroke="#ee3a14" stroke-width="1.25"/>
<line x1="141.42" y1="860.4" x2="141.42" y2="896.8" stroke="#ee3a14" stroke-width="1.25"/>
<line x1="137.72" y1="860.4" x2="145.12" y2="860.4" stroke="#ee3a14" stroke-width="1.25"/>
<line x1="137.72" y1="896.8" x2="145.12" y2="896.8" stroke="#ee3a14" stroke-width="1.25"/>
<line x1="173.1" y1="817.4" x2="173.1" y2="866" stroke="#ee3a14" stroke-width="1.25"/>
<line x1="169.4" y1="817.4" x2="176.8" y2="817.4" stroke="#ee3a14" stroke-width="1.25"/>
<line x1="169.4" y1="866" x2="176.8" y2="866" stroke="#ee3a14" stroke-width="1.25"/>
<polyline points="78.06,943.5 99.18,949.2 141.42,956.7 173.1,948.6 204.78,949.3 225.9,947.4 247.02,940.2 278.7,906.3 299.82,886.4" fill="none" stroke="#808080" stroke-width="1.2" stroke-linejoin="round" stroke-dasharray="5,3"/>
<polyline points="78.06,942.8 99.18,936.8 141.42,912.8 173.1,875.3" fill="none" stroke="#808080" stroke-width="1.25" stroke-linejoin="round"/>
<polyline points="78.06,941.8 99.18,937.3 141.42,938.5 173.1,931.6 204.78,907.2 225.9,903.1 247.02,892.9 278.7,852.7" fill="none" stroke="#ee3a14" stroke-width="1.2" stroke-linejoin="round" stroke-dasharray="5,3"/>
<polyline points="78.06,941.2 99.18,934.8 141.42,878.6 173.1,841.9" fill="none" stroke="#ee3a14" stroke-width="1.25" stroke-linejoin="round"/>
<circle cx="78.06" cy="943.5" r="3" fill="#fff" stroke="#808080" stroke-width="1.15"/>
<circle cx="99.18" cy="949.2" r="3" fill="#fff" stroke="#808080" stroke-width="1.15"/>
<circle cx="141.42" cy="956.7" r="3" fill="#fff" stroke="#808080" stroke-width="1.15"/>
<circle cx="173.1" cy="948.6" r="3" fill="#fff" stroke="#808080" stroke-width="1.15"/>
<circle cx="204.78" cy="949.3" r="3" fill="#fff" stroke="#808080" stroke-width="1.15"/>
<circle cx="225.9" cy="947.4" r="3" fill="#fff" stroke="#808080" stroke-width="1.15"/>
<circle cx="247.02" cy="940.2" r="3" fill="#fff" stroke="#808080" stroke-width="1.15"/>
<circle cx="278.7" cy="906.3" r="3" fill="#fff" stroke="#808080" stroke-width="1.15"/>
<circle cx="299.82" cy="886.4" r="3" fill="#fff" stroke="#808080" stroke-width="1.15"/>
<circle cx="78.06" cy="941.8" r="3" fill="#fff" stroke="#ee3a14" stroke-width="1.15"/>
<circle cx="99.18" cy="937.3" r="3" fill="#fff" stroke="#ee3a14" stroke-width="1.15"/>
<circle cx="141.42" cy="938.5" r="3" fill="#fff" stroke="#ee3a14" stroke-width="1.15"/>
<circle cx="173.1" cy="931.6" r="3" fill="#fff" stroke="#ee3a14" stroke-width="1.15"/>
<circle cx="204.78" cy="907.2" r="3" fill="#fff" stroke="#ee3a14" stroke-width="1.15"/>
<circle cx="225.9" cy="903.1" r="3" fill="#fff" stroke="#ee3a14" stroke-width="1.15"/>
<circle cx="247.02" cy="892.9" r="3" fill="#fff" stroke="#ee3a14" stroke-width="1.15"/>
<circle cx="278.7" cy="852.7" r="3" fill="#fff" stroke="#ee3a14" stroke-width="1.15"/>
<rect x="75.26" y="938.4" width="5.6" height="5.6" fill="#ee3a14"/>
<rect x="75.26" y="940" width="5.6" height="5.6" fill="#808080"/>
<circle cx="99.18" cy="936.8" r="2.8" fill="#808080"/>
<circle cx="141.42" cy="912.8" r="2.8" fill="#808080"/>
<circle cx="173.1" cy="875.3" r="2.8" fill="#808080"/>
<circle cx="99.18" cy="934.8" r="2.8" fill="#ee3a14"/>
<circle cx="141.42" cy="878.6" r="2.8" fill="#ee3a14"/>
<circle cx="173.1" cy="841.9" r="2.8" fill="#ee3a14"/>
<line x1="401.5" y1="798" x2="401.5" y2="975.5" stroke="#3c3c3c" stroke-width="1.1"/>
<line x1="401" y1="975" x2="663" y2="975" stroke="#3c3c3c" stroke-width="1.1"/>
<line x1="397" y1="975" x2="401.5" y2="975" stroke="#3c3c3c" stroke-width="1"/>
<text x="394.5" y="977.2" font-size="10.6" font-weight="normal" text-anchor="end" fill="#000" stroke="#000" stroke-width="0.2">0</text>
<line x1="397" y1="894.6" x2="401.5" y2="894.6" stroke="#3c3c3c" stroke-width="1"/>
<text x="394.5" y="898.2" font-size="10.6" font-weight="normal" text-anchor="end" fill="#000" stroke="#000" stroke-width="0.2">50</text>
<line x1="397" y1="814.2" x2="401.5" y2="814.2" stroke="#3c3c3c" stroke-width="1"/>
<text x="394.5" y="817.8" font-size="10.6" font-weight="normal" text-anchor="end" fill="#000" stroke="#000" stroke-width="0.2">100</text>
<line x1="398.9" y1="934.8" x2="401.5" y2="934.8" stroke="#3c3c3c" stroke-width="0.9"/>
<line x1="398.9" y1="854.4" x2="401.5" y2="854.4" stroke="#3c3c3c" stroke-width="0.9"/>
<line x1="401.5" y1="975" x2="401.5" y2="979.8" stroke="#3c3c3c" stroke-width="1"/>
<text x="401.5" y="991.7" font-size="10.6" font-weight="normal" text-anchor="middle" fill="#000" stroke="#000" stroke-width="0.2">0</text>
<line x1="453.7" y1="975" x2="453.7" y2="979.8" stroke="#3c3c3c" stroke-width="1"/>
<text x="453.7" y="991.7" font-size="10.6" font-weight="normal" text-anchor="middle" fill="#000" stroke="#000" stroke-width="0.2">10</text>
<line x1="505.9" y1="975" x2="505.9" y2="979.8" stroke="#3c3c3c" stroke-width="1"/>
<text x="505.9" y="991.7" font-size="10.6" font-weight="normal" text-anchor="middle" fill="#000" stroke="#000" stroke-width="0.2">20</text>
<line x1="558.1" y1="975" x2="558.1" y2="979.8" stroke="#3c3c3c" stroke-width="1"/>
<text x="558.1" y="991.7" font-size="10.6" font-weight="normal" text-anchor="middle" fill="#000" stroke="#000" stroke-width="0.2">30</text>
<line x1="610.3" y1="975" x2="610.3" y2="979.8" stroke="#3c3c3c" stroke-width="1"/>
<text x="610.3" y="991.7" font-size="10.6" font-weight="normal" text-anchor="middle" fill="#000" stroke="#000" stroke-width="0.2">40</text>
<line x1="662.5" y1="975" x2="662.5" y2="979.8" stroke="#3c3c3c" stroke-width="1"/>
<text x="662.5" y="991.7" font-size="10.6" font-weight="normal" text-anchor="middle" fill="#000" stroke="#000" stroke-width="0.2">50</text>
<line x1="427.6" y1="975" x2="427.6" y2="977.8" stroke="#3c3c3c" stroke-width="0.9"/>
<line x1="479.8" y1="975" x2="479.8" y2="977.8" stroke="#3c3c3c" stroke-width="0.9"/>
<line x1="532" y1="975" x2="532" y2="977.8" stroke="#3c3c3c" stroke-width="0.9"/>
<line x1="584.2" y1="975" x2="584.2" y2="977.8" stroke="#3c3c3c" stroke-width="0.9"/>
<line x1="636.4" y1="975" x2="636.4" y2="977.8" stroke="#3c3c3c" stroke-width="0.9"/>
<text x="527.5" y="1007.4" font-size="11.55" font-weight="bold" text-anchor="middle" fill="#000">Days on treatment</text>
<text x="372.9" y="886" font-size="11.75" font-weight="bold" text-anchor="middle" fill="#000" transform="rotate(-90 372.9 886)">Probability of Survival</text>
<line x1="505.9" y1="818.22" x2="505.9" y2="837.19" stroke="#ee3a14" stroke-width="1.8" stroke-dasharray="10,4"/>
<line x1="505.9" y1="837.19" x2="516.34" y2="837.19" stroke="#ee3a14" stroke-width="1.8" stroke-dasharray="10,4"/>
<rect x="505" y="836.29" width="1.8" height="1.8" fill="#ee3a14"/>
<line x1="542.44" y1="837.19" x2="542.44" y2="906.02" stroke="#ee3a14" stroke-width="1.8" stroke-dasharray="9.4,3.2"/>
<line x1="542.44" y1="906.02" x2="547.66" y2="906.02" stroke="#ee3a14" stroke-width="1.8" stroke-dasharray="9.4,3.2"/>
<line x1="547.66" y1="906.02" x2="547.66" y2="929.01" stroke="#ee3a14" stroke-width="1.8" stroke-dasharray="9.4,3.2"/>
<line x1="547.66" y1="929.01" x2="578.98" y2="929.01" stroke="#ee3a14" stroke-width="1.8" stroke-dasharray="9.4,3.2"/>
<line x1="578.98" y1="929.01" x2="578.98" y2="952.01" stroke="#ee3a14" stroke-width="1.8" stroke-dasharray="9.4,3.2"/>
<line x1="578.98" y1="952.01" x2="594.64" y2="952.01" stroke="#ee3a14" stroke-width="1.8" stroke-dasharray="9.4,3.2"/>
<line x1="594.64" y1="952.01" x2="594.64" y2="972.59" stroke="#ee3a14" stroke-width="1.8" stroke-dasharray="9.4,3.2"/>
<rect x="541.54" y="905.12" width="1.8" height="1.8" fill="#ee3a14"/>
<rect x="546.76" y="905.12" width="1.8" height="1.8" fill="#ee3a14"/>
<rect x="546.76" y="928.11" width="1.8" height="1.8" fill="#ee3a14"/>
<rect x="578.08" y="928.11" width="1.8" height="1.8" fill="#ee3a14"/>
<rect x="578.08" y="951.11" width="1.8" height="1.8" fill="#ee3a14"/>
<rect x="593.74" y="951.11" width="1.8" height="1.8" fill="#ee3a14"/>
<polyline points="448.48,837.19 448.48,860.19 469.36,860.19" fill="none" stroke="#ee3a14" stroke-width="1.8" stroke-linejoin="miter"/>
<polyline points="469.36,883.18 469.36,906.02 479.8,906.02 479.8,929.01 490.24,929.01 490.24,975" fill="none" stroke="#ee3a14" stroke-width="1.8" stroke-linejoin="miter"/>
<polyline points="401.5,814.2 443.26,814.2 443.26,837.19 469.36,837.19 469.36,883.18 485.02,883.18 485.02,906.02 505.9,906.02 505.9,952.01 516.34,952.01 516.34,975" fill="none" stroke="#808080" stroke-width="1.65" stroke-linejoin="miter"/>
<line x1="448.9" y1="814.2" x2="516.34" y2="814.2" stroke="#808080" stroke-width="1.65" stroke-dasharray="11.6,6.2"/>
<line x1="516.34" y1="814.2" x2="516.34" y2="837.19" stroke="#808080" stroke-width="1.65" stroke-dasharray="11.6,6.2"/>
<line x1="516.34" y1="837.19" x2="563.32" y2="837.19" stroke="#808080" stroke-width="1.65" stroke-dasharray="11.6,6.2"/>
<line x1="563.32" y1="837.19" x2="563.32" y2="883.18" stroke="#808080" stroke-width="1.65" stroke-dasharray="11.6,6.2"/>
<line x1="563.32" y1="883.18" x2="578.98" y2="883.18" stroke="#808080" stroke-width="1.65" stroke-dasharray="11.6,6.2"/>
<line x1="578.98" y1="883.18" x2="578.98" y2="906.02" stroke="#808080" stroke-width="1.65" stroke-dasharray="11.6,6.2"/>
<line x1="578.98" y1="906.02" x2="594.64" y2="906.02" stroke="#808080" stroke-width="1.65" stroke-dasharray="11.6,6.2"/>
<line x1="594.64" y1="906.02" x2="594.64" y2="929.01" stroke="#808080" stroke-width="1.65" stroke-dasharray="11.6,6.2"/>
<line x1="594.64" y1="929.01" x2="620.74" y2="929.01" stroke="#808080" stroke-width="1.65" stroke-dasharray="11.6,6.2"/>
<line x1="620.74" y1="929.01" x2="620.74" y2="952.01" stroke="#808080" stroke-width="1.65" stroke-dasharray="11.6,6.2"/>
<line x1="620.74" y1="952.01" x2="636.4" y2="952.01" stroke="#808080" stroke-width="1.65" stroke-dasharray="11.6,6.2"/>
<line x1="636.4" y1="952.01" x2="636.4" y2="975" stroke="#808080" stroke-width="1.65" stroke-dasharray="11.6,6.2"/>
<rect x="515.51" y="813.38" width="1.65" height="1.65" fill="#808080"/>
<rect x="515.51" y="836.37" width="1.65" height="1.65" fill="#808080"/>
<rect x="562.49" y="836.37" width="1.65" height="1.65" fill="#808080"/>
<rect x="562.49" y="882.36" width="1.65" height="1.65" fill="#808080"/>
<rect x="578.15" y="882.36" width="1.65" height="1.65" fill="#808080"/>
<rect x="578.15" y="905.19" width="1.65" height="1.65" fill="#808080"/>
<rect x="593.81" y="905.19" width="1.65" height="1.65" fill="#808080"/>
<rect x="593.81" y="928.19" width="1.65" height="1.65" fill="#808080"/>
<rect x="619.91" y="928.19" width="1.65" height="1.65" fill="#808080"/>
<rect x="619.91" y="951.18" width="1.65" height="1.65" fill="#808080"/>
<rect x="635.57" y="951.18" width="1.65" height="1.65" fill="#808080"/>
<line x1="659.7" y1="803.4" x2="681.1" y2="803.4" stroke="#808080" stroke-width="1.5"/>
<circle cx="670.4" cy="803.4" r="4.6" fill="#808080"/>
<text x="690.4" y="807.7" font-size="13.5" font-weight="bold" text-anchor="start" fill="#000">Parental Vehicle</text>
<line x1="659.7" y1="823.4" x2="681.1" y2="823.4" stroke="#808080" stroke-width="1.5"/>
<circle cx="670.4" cy="823.4" r="4.3" fill="#fff" stroke="#808080" stroke-width="1.4"/>
<line x1="659.7" y1="823.4" x2="670.4" y2="823.4" stroke="#808080" stroke-width="1.5"/>
<text x="690.4" y="827.8" font-size="13.5" font-weight="bold" text-anchor="start" fill="#000">Parental TT</text>
<line x1="659.7" y1="843.3" x2="681.1" y2="843.3" stroke="#ff5200" stroke-width="1.5"/>
<circle cx="670.4" cy="843.3" r="4.6" fill="#ff5200"/>
<text x="690.4" y="847.6" font-size="13.5" font-weight="bold" text-anchor="start" fill="#000">AR Vehicle</text>
<line x1="659.7" y1="865.3" x2="681.1" y2="865.3" stroke="#ff5200" stroke-width="1.5"/>
<circle cx="670.4" cy="865.3" r="4.3" fill="#fff" stroke="#ff5200" stroke-width="1.4"/>
<line x1="659.7" y1="865.3" x2="670.4" y2="865.3" stroke="#ff5200" stroke-width="1.5"/>
<text x="690.4" y="868.1" font-size="13.5" font-weight="bold" text-anchor="start" fill="#000">AR TT</text>
<line x1="803.3" y1="802.7" x2="803.3" y2="822.1" stroke="#222" stroke-width="1.1"/>
<text x="806.3" y="819.2" font-size="16.5" font-weight="bold" text-anchor="start" fill="#111" stroke="#111" stroke-width="0.4" stroke-linejoin="round">***</text>
<line x1="803.3" y1="845.9" x2="803.3" y2="865.3" stroke="#222" stroke-width="1.1"/>
<text x="806.3" y="862" font-size="16.5" font-weight="bold" text-anchor="start" fill="#111" stroke="#111" stroke-width="0.4" stroke-linejoin="round">***</text>
</g>
<defs>
<filter id="f1" x="0" y="0" width="1" height="1" color-interpolation-filters="sRGB"><feTurbulence type="fractalNoise" baseFrequency="0.62" numOctaves="2" seed="3" result="fn"/><feColorMatrix in="fn" type="matrix" values="2.0 0 0 0 -0.5  2.0 0 0 0 -0.5  2.0 0 0 0 -0.5  0 0 0 0 1" result="fg"/><feTurbulence type="fractalNoise" baseFrequency="0.03 0.04" numOctaves="3" seed="43" result="cn"/><feColorMatrix in="cn" type="matrix" values="2 0 0 0 -0.5  2 0 0 0 -0.5  2 0 0 0 -0.5  0 0 0 0 1" result="cg"/><feComposite in="fg" in2="cg" operator="arithmetic" k1="0" k2="0.7" k3="0.6" k4="-0.130" result="mix"/><feColorMatrix in="mix" type="matrix" values="-0.039 0 0 0 0.706 -0.235 0 0 0 0.698 -0.400 0 0 0 0.784 0 0 0 0 1" result="col"/><feColorMatrix in="fn" type="matrix" values="0 -0.90 0 0 1.423  0 -0.95 0 0 1.443  0 -0.90 0 0 1.423  0 0 0 0 1" result="dk"/><feBlend in="col" in2="dk" mode="multiply" result="cd"/><feGaussianBlur in="cd" stdDeviation="0.42"/></filter>
<filter id="f2" x="0" y="0" width="1" height="1" color-interpolation-filters="sRGB"><feTurbulence type="fractalNoise" baseFrequency="0.62" numOctaves="2" seed="11" result="fn"/><feColorMatrix in="fn" type="matrix" values="2.0 0 0 0 -0.5  2.0 0 0 0 -0.5  2.0 0 0 0 -0.5  0 0 0 0 1" result="fg"/><feTurbulence type="fractalNoise" baseFrequency="0.03 0.04" numOctaves="3" seed="51" result="cn"/><feColorMatrix in="cn" type="matrix" values="2 0 0 0 -0.5  2 0 0 0 -0.5  2 0 0 0 -0.5  0 0 0 0 1" result="cg"/><feComposite in="fg" in2="cg" operator="arithmetic" k1="0" k2="0.7" k3="0.3" k4="0.000" result="mix"/><feColorMatrix in="mix" type="matrix" values="-0.047 0 0 0 0.698 -0.196 0 0 0 0.682 -0.337 0 0 0 0.769 0 0 0 0 1" result="col"/><feColorMatrix in="fn" type="matrix" values="0 -0.90 0 0 1.423  0 -0.95 0 0 1.443  0 -0.90 0 0 1.423  0 0 0 0 1" result="dk"/><feBlend in="col" in2="dk" mode="multiply" result="cd"/><feGaussianBlur in="cd" stdDeviation="0.42"/></filter>
<filter id="f3" x="0" y="0" width="1" height="1" color-interpolation-filters="sRGB"><feTurbulence type="fractalNoise" baseFrequency="0.62" numOctaves="2" seed="5" result="fn"/><feColorMatrix in="fn" type="matrix" values="2.0 0 0 0 -0.5  2.0 0 0 0 -0.5  2.0 0 0 0 -0.5  0 0 0 0 1" result="fg"/><feTurbulence type="fractalNoise" baseFrequency="0.03 0.04" numOctaves="3" seed="45" result="cn"/><feColorMatrix in="cn" type="matrix" values="2 0 0 0 -0.5  2 0 0 0 -0.5  2 0 0 0 -0.5  0 0 0 0 1" result="cg"/><feComposite in="fg" in2="cg" operator="arithmetic" k1="0" k2="0.7" k3="0.45" k4="-0.415" result="mix"/><feColorMatrix in="mix" type="matrix" values="-0.212 0 0 0 0.714 -0.314 0 0 0 0.722 -0.353 0 0 0 0.831 0 0 0 0 1" result="col"/><feColorMatrix in="fn" type="matrix" values="0 -0.55 0 0 1.258  0 -0.58 0 0 1.278  0 -0.55 0 0 1.258  0 0 0 0 1" result="dk"/><feBlend in="col" in2="dk" mode="multiply" result="cd"/><feGaussianBlur in="cd" stdDeviation="0.42"/></filter>
<filter id="f4" x="0" y="0" width="1" height="1" color-interpolation-filters="sRGB"><feTurbulence type="fractalNoise" baseFrequency="0.62" numOctaves="2" seed="21" result="fn"/><feColorMatrix in="fn" type="matrix" values="2.0 0 0 0 -0.5  2.0 0 0 0 -0.5  2.0 0 0 0 -0.5  0 0 0 0 1" result="fg"/><feTurbulence type="fractalNoise" baseFrequency="0.03 0.04" numOctaves="3" seed="61" result="cn"/><feColorMatrix in="cn" type="matrix" values="2 0 0 0 -0.5  2 0 0 0 -0.5  2 0 0 0 -0.5  0 0 0 0 1" result="cg"/><feComposite in="fg" in2="cg" operator="arithmetic" k1="0" k2="0.7" k3="0.4" k4="0.000" result="mix"/><feColorMatrix in="mix" type="matrix" values="-0.149 0 0 0 0.533 -0.220 0 0 0 0.525 -0.275 0 0 0 0.659 0 0 0 0 1" result="col"/><feColorMatrix in="fn" type="matrix" values="0 -0.90 0 0 1.423  0 -0.95 0 0 1.443  0 -0.90 0 0 1.423  0 0 0 0 1" result="dk"/><feBlend in="col" in2="dk" mode="multiply" result="cd"/><feGaussianBlur in="cd" stdDeviation="0.42"/></filter>
<filter id="g1" x="0" y="0" width="1" height="1" color-interpolation-filters="sRGB"><feTurbulence type="fractalNoise" baseFrequency="0.62" numOctaves="2" seed="8" result="fn"/><feColorMatrix in="fn" type="matrix" values="2.0 0 0 0 -0.5  2.0 0 0 0 -0.5  2.0 0 0 0 -0.5  0 0 0 0 1" result="fg"/><feTurbulence type="fractalNoise" baseFrequency="0.03 0.04" numOctaves="3" seed="48" result="cn"/><feColorMatrix in="cn" type="matrix" values="2 0 0 0 -0.5  2 0 0 0 -0.5  2 0 0 0 -0.5  0 0 0 0 1" result="cg"/><feComposite in="fg" in2="cg" operator="arithmetic" k1="0" k2="0.7" k3="0.55" k4="-0.125" result="mix"/><feColorMatrix in="mix" type="matrix" values="-0.055 0 0 0 0.722 -0.212 0 0 0 0.714 -0.353 0 0 0 0.816 0 0 0 0 1" result="col"/><feColorMatrix in="fn" type="matrix" values="0 -0.70 0 0 1.329  0 -0.73 0 0 1.349  0 -0.70 0 0 1.329  0 0 0 0 1" result="dk"/><feBlend in="col" in2="dk" mode="multiply" result="cd"/><feGaussianBlur in="cd" stdDeviation="0.42"/></filter>
<filter id="g2" x="0" y="0" width="1" height="1" color-interpolation-filters="sRGB"><feTurbulence type="fractalNoise" baseFrequency="0.62" numOctaves="2" seed="14" result="fn"/><feColorMatrix in="fn" type="matrix" values="2.0 0 0 0 -0.5  2.0 0 0 0 -0.5  2.0 0 0 0 -0.5  0 0 0 0 1" result="fg"/><feTurbulence type="fractalNoise" baseFrequency="0.03 0.04" numOctaves="3" seed="54" result="cn"/><feColorMatrix in="cn" type="matrix" values="2 0 0 0 -0.5  2 0 0 0 -0.5  2 0 0 0 -0.5  0 0 0 0 1" result="cg"/><feComposite in="fg" in2="cg" operator="arithmetic" k1="0" k2="0.7" k3="0.4" k4="-0.230" result="mix"/><feColorMatrix in="mix" type="matrix" values="-0.071 0 0 0 0.682 -0.173 0 0 0 0.675 -0.275 0 0 0 0.800 0 0 0 0 1" result="col"/><feColorMatrix in="fn" type="matrix" values="0 -0.60 0 0 1.282  0 -0.63 0 0 1.302  0 -0.60 0 0 1.282  0 0 0 0 1" result="dk"/><feBlend in="col" in2="dk" mode="multiply" result="cd"/><feGaussianBlur in="cd" stdDeviation="0.42"/></filter>
<filter id="g3" x="0" y="0" width="1" height="1" color-interpolation-filters="sRGB"><feTurbulence type="fractalNoise" baseFrequency="0.62" numOctaves="2" seed="2" result="fn"/><feColorMatrix in="fn" type="matrix" values="2.0 0 0 0 -0.5  2.0 0 0 0 -0.5  2.0 0 0 0 -0.5  0 0 0 0 1" result="fg"/><feTurbulence type="fractalNoise" baseFrequency="0.03 0.04" numOctaves="3" seed="42" result="cn"/><feColorMatrix in="cn" type="matrix" values="2 0 0 0 -0.5  2 0 0 0 -0.5  2 0 0 0 -0.5  0 0 0 0 1" result="cg"/><feComposite in="fg" in2="cg" operator="arithmetic" k1="0" k2="0.7" k3="0.3" k4="-0.400" result="mix"/><feColorMatrix in="mix" type="matrix" values="-0.212 0 0 0 0.753 -0.298 0 0 0 0.769 -0.298 0 0 0 0.886 0 0 0 0 1" result="col"/><feColorMatrix in="fn" type="matrix" values="0 -0.45 0 0 1.212  0 -0.47 0 0 1.232  0 -0.45 0 0 1.212  0 0 0 0 1" result="dk"/><feBlend in="col" in2="dk" mode="multiply" result="cd"/><feGaussianBlur in="cd" stdDeviation="0.42"/></filter>
<filter id="g4" x="0" y="0" width="1" height="1" color-interpolation-filters="sRGB"><feTurbulence type="fractalNoise" baseFrequency="0.62" numOctaves="2" seed="17" result="fn"/><feColorMatrix in="fn" type="matrix" values="2.0 0 0 0 -0.5  2.0 0 0 0 -0.5  2.0 0 0 0 -0.5  0 0 0 0 1" result="fg"/><feTurbulence type="fractalNoise" baseFrequency="0.03 0.04" numOctaves="3" seed="57" result="cn"/><feColorMatrix in="cn" type="matrix" values="2 0 0 0 -0.5  2 0 0 0 -0.5  2 0 0 0 -0.5  0 0 0 0 1" result="cg"/><feComposite in="fg" in2="cg" operator="arithmetic" k1="0" k2="0.7" k3="0.35" k4="-0.345" result="mix"/><feColorMatrix in="mix" type="matrix" values="-0.157 0 0 0 0.635 -0.251 0 0 0 0.675 -0.251 0 0 0 0.847 0 0 0 0 1" result="col"/><feColorMatrix in="fn" type="matrix" values="0 -0.50 0 0 1.235  0 -0.53 0 0 1.255  0 -0.50 0 0 1.235  0 0 0 0 1" result="dk"/><feBlend in="col" in2="dk" mode="multiply" result="cd"/><feGaussianBlur in="cd" stdDeviation="0.42"/></filter>
</defs>
<g id="panelF">
<text x="3.4" y="1063.7" font-size="33.8" font-weight="bold" text-anchor="start" fill="#111">F</text>
<text x="86.8" y="1087.9" font-size="13.5" font-weight="bold" text-anchor="middle" fill="#000">Parental</text>
<text x="184" y="1087.9" font-size="13.5" font-weight="bold" text-anchor="middle" fill="#000">AR</text>
<text x="34.5" y="1131.3" font-size="13.2" font-weight="bold" text-anchor="middle" fill="#000" transform="rotate(-90 34.5 1131.3)">Vehicle</text>
<text x="34.5" y="1207.2" font-size="13.2" font-weight="bold" text-anchor="middle" fill="#000" transform="rotate(-90 34.5 1207.2)">TT</text>
<rect x="43.2" y="1096.5" width="87.9" height="68.8" fill="#999" filter="url(#f1)"/>
<rect x="44.4" y="1162.7" width="5" height="1.2" fill="#222" opacity="0.8"/>
<rect x="137.6" y="1096.5" width="88.4" height="68.8" fill="#999" filter="url(#f2)"/>
<rect x="138.8" y="1162.7" width="5" height="1.2" fill="#222" opacity="0.8"/>
<rect x="43.2" y="1172" width="87.9" height="69.3" fill="#999" filter="url(#f3)"/>
<rect x="44.4" y="1238.7" width="5" height="1.2" fill="#222" opacity="0.8"/>
<rect x="137.6" y="1172" width="88.4" height="69.3" fill="#999" filter="url(#f4)"/>
<rect x="138.8" y="1238.7" width="5" height="1.2" fill="#222" opacity="0.8"/>
<g fill="none" stroke="#fff" stroke-linecap="round" opacity="0.75"><polyline points="197,1235 200.5,1232.8 203.5,1231.6 207,1230.2 211,1228.2 209.6,1231.2" stroke-width="1.1"/><polyline points="217,1199 219.5,1203 221.5,1206.5" stroke-width="0.7" opacity="0.6"/></g>
<line x1="285.2" y1="1081.8" x2="285.2" y2="1226.8" stroke="#3c3c3c" stroke-width="1.05"/>
<line x1="284.7" y1="1226.3" x2="412.9" y2="1226.3" stroke="#3c3c3c" stroke-width="1.05"/>
<line x1="280.6" y1="1082.3" x2="285.2" y2="1082.3" stroke="#3c3c3c" stroke-width="1"/>
<text x="279" y="1086.3" font-size="11.3" font-weight="normal" text-anchor="end" fill="#111" stroke="#000" stroke-width="0.2">40</text>
<line x1="280.6" y1="1118.5" x2="285.2" y2="1118.5" stroke="#3c3c3c" stroke-width="1"/>
<text x="279" y="1122.5" font-size="11.3" font-weight="normal" text-anchor="end" fill="#111" stroke="#000" stroke-width="0.2">30</text>
<line x1="280.6" y1="1154.4" x2="285.2" y2="1154.4" stroke="#3c3c3c" stroke-width="1"/>
<text x="279" y="1158.4" font-size="11.3" font-weight="normal" text-anchor="end" fill="#111" stroke="#000" stroke-width="0.2">20</text>
<line x1="280.6" y1="1190.6" x2="285.2" y2="1190.6" stroke="#3c3c3c" stroke-width="1"/>
<text x="279" y="1194.6" font-size="11.3" font-weight="normal" text-anchor="end" fill="#111" stroke="#000" stroke-width="0.2">10</text>
<line x1="280.6" y1="1226.3" x2="285.2" y2="1226.3" stroke="#3c3c3c" stroke-width="1"/>
<text x="279" y="1230.3" font-size="11.3" font-weight="normal" text-anchor="end" fill="#111" stroke="#000" stroke-width="0.2">0</text>
<line x1="282.6" y1="1100.4" x2="285.2" y2="1100.4" stroke="#3c3c3c" stroke-width="0.9"/>
<line x1="282.6" y1="1136.4" x2="285.2" y2="1136.4" stroke="#3c3c3c" stroke-width="0.9"/>
<line x1="282.6" y1="1172.5" x2="285.2" y2="1172.5" stroke="#3c3c3c" stroke-width="0.9"/>
<line x1="282.6" y1="1208.4" x2="285.2" y2="1208.4" stroke="#3c3c3c" stroke-width="0.9"/>
<line x1="305.3" y1="1226.3" x2="305.3" y2="1230.9" stroke="#3c3c3c" stroke-width="1"/>
<text x="308.9" y="1237.9" font-size="11.1" font-weight="normal" text-anchor="end" fill="#111" transform="rotate(-45 308.9 1237.9)" stroke="#000" stroke-width="0.2">P vehicle</text>
<line x1="334.8" y1="1226.3" x2="334.8" y2="1230.9" stroke="#3c3c3c" stroke-width="1"/>
<text x="338.4" y="1237.9" font-size="11.1" font-weight="normal" text-anchor="end" fill="#111" transform="rotate(-45 338.4 1237.9)" stroke="#000" stroke-width="0.2">P TT</text>
<line x1="364" y1="1226.3" x2="364" y2="1230.9" stroke="#3c3c3c" stroke-width="1"/>
<text x="367.6" y="1237.9" font-size="11.1" font-weight="normal" text-anchor="end" fill="#111" transform="rotate(-45 367.6 1237.9)" stroke="#000" stroke-width="0.2">AR vehicle</text>
<line x1="393.4" y1="1226.3" x2="393.4" y2="1230.9" stroke="#3c3c3c" stroke-width="1"/>
<text x="397" y="1237.9" font-size="11.1" font-weight="normal" text-anchor="end" fill="#111" transform="rotate(-45 397 1237.9)" stroke="#000" stroke-width="0.2">AR TT</text>
<text x="252" y="1157.3" font-size="11.8" font-weight="normal" text-anchor="middle" fill="#000" transform="rotate(-90 252 1157.3)" textLength="100.8" lengthAdjust="spacing" stroke="#000" stroke-width="0.3">% BrdU positive cells</text>
<line x1="305.3" y1="1091.2" x2="333.2" y2="1091.2" stroke="#333" stroke-width="1.1"/>
<line x1="336.1" y1="1091.2" x2="393.9" y2="1091.2" stroke="#333" stroke-width="1.1"/>
<text x="319.3" y="1092.6" font-size="11.5" font-weight="bold" text-anchor="middle" fill="#111" stroke="#111" stroke-width="0.5" stroke-linejoin="round">*</text>
<text x="365.1" y="1092.6" font-size="11.5" font-weight="bold" text-anchor="middle" fill="#111" stroke="#111" stroke-width="0.5" stroke-linejoin="round">*</text>
<line x1="295.3" y1="1134.3" x2="315.3" y2="1134.3" stroke="#808080" stroke-width="1.2"/>
<line x1="305.3" y1="1125.8" x2="305.3" y2="1143" stroke="#808080" stroke-width="1.2"/>
<line x1="300.1" y1="1125.8" x2="310.5" y2="1125.8" stroke="#808080" stroke-width="1.2"/>
<line x1="300.1" y1="1143" x2="310.5" y2="1143" stroke="#808080" stroke-width="1.2"/>
<circle cx="305.3" cy="1118.5" r="2.7" fill="#808080"/>
<circle cx="305.3" cy="1137.7" r="2.7" fill="#808080"/>
<circle cx="305.3" cy="1147.5" r="2.7" fill="#808080"/>
<line x1="324.8" y1="1206.2" x2="344.8" y2="1206.2" stroke="#808080" stroke-width="1.2" stroke-dasharray="4,2.5"/>
<line x1="334.8" y1="1198.8" x2="334.8" y2="1213.1" stroke="#808080" stroke-width="1.2"/>
<line x1="329.6" y1="1198.8" x2="340" y2="1198.8" stroke="#808080" stroke-width="1.2"/>
<line x1="329.6" y1="1213.1" x2="340" y2="1213.1" stroke="#808080" stroke-width="1.2"/>
<circle cx="334.8" cy="1186.8" r="2.6" fill="#fff" stroke="#808080" stroke-width="1.1"/>
<circle cx="334.8" cy="1205.1" r="2.6" fill="#fff" stroke="#808080" stroke-width="1.1"/>
<circle cx="327.6" cy="1218.4" r="2.6" fill="#fff" stroke="#808080" stroke-width="1.1"/>
<circle cx="342.1" cy="1214" r="2.6" fill="#fff" stroke="#808080" stroke-width="1.1"/>
<line x1="330" y1="1206.2" x2="339.6" y2="1206.2" stroke="#808080" stroke-width="1" stroke-dasharray="4,2.5"/>
<line x1="354" y1="1144.8" x2="374" y2="1144.8" stroke="#ee3a14" stroke-width="1.2"/>
<line x1="364" y1="1131.4" x2="364" y2="1158.6" stroke="#ee3a14" stroke-width="1.2"/>
<line x1="358.8" y1="1131.4" x2="369.2" y2="1131.4" stroke="#ee3a14" stroke-width="1.2"/>
<line x1="358.8" y1="1158.6" x2="369.2" y2="1158.6" stroke="#ee3a14" stroke-width="1.2"/>
<circle cx="364" cy="1118.5" r="2.7" fill="#ee3a14"/>
<circle cx="364" cy="1153.3" r="2.7" fill="#ee3a14"/>
<circle cx="364" cy="1163.8" r="2.7" fill="#ee3a14"/>
<line x1="383.4" y1="1139.2" x2="403.4" y2="1139.2" stroke="#ee3a14" stroke-width="1.2" stroke-dasharray="4,2.5"/>
<line x1="393.4" y1="1112" x2="393.4" y2="1166.4" stroke="#ee3a14" stroke-width="1.2"/>
<line x1="388.2" y1="1112" x2="398.6" y2="1112" stroke="#ee3a14" stroke-width="1.2"/>
<line x1="388.2" y1="1166.4" x2="398.6" y2="1166.4" stroke="#ee3a14" stroke-width="1.2"/>
<circle cx="393.4" cy="1101.3" r="2.6" fill="#fff" stroke="#ee3a14" stroke-width="1.1"/>
<circle cx="393.4" cy="1125.2" r="2.6" fill="#fff" stroke="#ee3a14" stroke-width="1.1"/>
<circle cx="393.4" cy="1191.7" r="2.6" fill="#fff" stroke="#ee3a14" stroke-width="1.1"/>
</g>
<g id="panelG">
<text x="422.4" y="1063.6" font-size="33.8" font-weight="bold" text-anchor="start" fill="#111">G</text>
<text x="511.3" y="1087.9" font-size="13.5" font-weight="bold" text-anchor="middle" fill="#000">Parental</text>
<text x="605.6" y="1087.9" font-size="13.5" font-weight="bold" text-anchor="middle" fill="#000">AR</text>
<text x="455.2" y="1131.3" font-size="13.2" font-weight="bold" text-anchor="middle" fill="#000" transform="rotate(-90 455.2 1131.3)">Vehicle</text>
<text x="455.2" y="1207" font-size="13.2" font-weight="bold" text-anchor="middle" fill="#000" transform="rotate(-90 455.2 1207)">TT</text>
<rect x="465" y="1096.5" width="88.9" height="69" fill="#999" filter="url(#g1)"/>
<rect x="466.2" y="1162.9" width="5" height="1.2" fill="#222" opacity="0.8"/>
<rect x="560" y="1096.5" width="88.3" height="69" fill="#999" filter="url(#g2)"/>
<rect x="561.2" y="1162.9" width="5" height="1.2" fill="#222" opacity="0.8"/>
<rect x="465" y="1172.4" width="88.9" height="69.4" fill="#999" filter="url(#g3)"/>
<rect x="466.2" y="1239.2" width="5" height="1.2" fill="#222" opacity="0.8"/>
<rect x="560" y="1172.4" width="88.3" height="69.4" fill="#999" filter="url(#g4)"/>
<rect x="561.2" y="1239.2" width="5" height="1.2" fill="#222" opacity="0.8"/>
<line x1="704.3" y1="1083.6" x2="704.3" y2="1229.4" stroke="#3c3c3c" stroke-width="1.05"/>
<line x1="703.8" y1="1228.9" x2="829" y2="1228.9" stroke="#3c3c3c" stroke-width="1.05"/>
<line x1="699.7" y1="1084.1" x2="704.3" y2="1084.1" stroke="#3c3c3c" stroke-width="1"/>
<text x="699.6" y="1088.1" font-size="11.3" font-weight="normal" text-anchor="end" fill="#111" stroke="#000" stroke-width="0.2">100</text>
<line x1="699.7" y1="1113.1" x2="704.3" y2="1113.1" stroke="#3c3c3c" stroke-width="1"/>
<text x="699.6" y="1117.1" font-size="11.3" font-weight="normal" text-anchor="end" fill="#111" stroke="#000" stroke-width="0.2">80</text>
<line x1="699.7" y1="1142.1" x2="704.3" y2="1142.1" stroke="#3c3c3c" stroke-width="1"/>
<text x="699.6" y="1146.1" font-size="11.3" font-weight="normal" text-anchor="end" fill="#111" stroke="#000" stroke-width="0.2">60</text>
<line x1="699.7" y1="1170.9" x2="704.3" y2="1170.9" stroke="#3c3c3c" stroke-width="1"/>
<text x="699.6" y="1174.9" font-size="11.3" font-weight="normal" text-anchor="end" fill="#111" stroke="#000" stroke-width="0.2">40</text>
<line x1="699.7" y1="1199.9" x2="704.3" y2="1199.9" stroke="#3c3c3c" stroke-width="1"/>
<text x="699.6" y="1203.9" font-size="11.3" font-weight="normal" text-anchor="end" fill="#111" stroke="#000" stroke-width="0.2">20</text>
<line x1="699.7" y1="1228.9" x2="704.3" y2="1228.9" stroke="#3c3c3c" stroke-width="1"/>
<text x="699.6" y="1232.9" font-size="11.3" font-weight="normal" text-anchor="end" fill="#111" stroke="#000" stroke-width="0.2">0</text>
<line x1="701.7" y1="1098.6" x2="704.3" y2="1098.6" stroke="#3c3c3c" stroke-width="0.9"/>
<line x1="701.7" y1="1127.6" x2="704.3" y2="1127.6" stroke="#3c3c3c" stroke-width="0.9"/>
<line x1="701.7" y1="1156.5" x2="704.3" y2="1156.5" stroke="#3c3c3c" stroke-width="0.9"/>
<line x1="701.7" y1="1185.4" x2="704.3" y2="1185.4" stroke="#3c3c3c" stroke-width="0.9"/>
<line x1="701.7" y1="1214.4" x2="704.3" y2="1214.4" stroke="#3c3c3c" stroke-width="0.9"/>
<line x1="723.9" y1="1228.9" x2="723.9" y2="1233.5" stroke="#3c3c3c" stroke-width="1"/>
<text x="727.5" y="1240.5" font-size="11.1" font-weight="normal" text-anchor="end" fill="#111" transform="rotate(-45 727.5 1240.5)" stroke="#000" stroke-width="0.2">P vehicle</text>
<line x1="752.7" y1="1228.9" x2="752.7" y2="1233.5" stroke="#3c3c3c" stroke-width="1"/>
<text x="756.3" y="1240.5" font-size="11.1" font-weight="normal" text-anchor="end" fill="#111" transform="rotate(-45 756.3 1240.5)" stroke="#000" stroke-width="0.2">P TT</text>
<line x1="781" y1="1228.9" x2="781" y2="1233.5" stroke="#3c3c3c" stroke-width="1"/>
<text x="784.6" y="1240.5" font-size="11.1" font-weight="normal" text-anchor="end" fill="#111" transform="rotate(-45 784.6 1240.5)" stroke="#000" stroke-width="0.2">AR vehicle</text>
<line x1="809.6" y1="1228.9" x2="809.6" y2="1233.5" stroke="#3c3c3c" stroke-width="1"/>
<text x="813.2" y="1240.5" font-size="11.1" font-weight="normal" text-anchor="end" fill="#111" transform="rotate(-45 813.2 1240.5)" stroke="#000" stroke-width="0.2">AR TT</text>
<text x="675.2" y="1166.3" font-size="11.8" font-weight="normal" text-anchor="middle" fill="#000" transform="rotate(-90 675.2 1166.3)" textLength="103.3" lengthAdjust="spacing" stroke="#000" stroke-width="0.3">% pERK positive cells</text>
<line x1="723.9" y1="1106.2" x2="751.1" y2="1106.2" stroke="#333" stroke-width="1.1"/>
<line x1="754" y1="1106.2" x2="779.5" y2="1106.2" stroke="#333" stroke-width="1.1"/>
<line x1="782.4" y1="1106.2" x2="810.3" y2="1106.2" stroke="#333" stroke-width="1.1"/>
<text x="737.7" y="1107" font-size="11.5" font-weight="bold" text-anchor="middle" fill="#111" stroke="#111" stroke-width="0.5" stroke-linejoin="round">*</text>
<text x="766.7" y="1107" font-size="11.5" font-weight="bold" text-anchor="middle" fill="#111" stroke="#111" stroke-width="0.5" stroke-linejoin="round">*</text>
<text x="796.2" y="1107" font-size="11.5" font-weight="bold" text-anchor="middle" fill="#111" stroke="#111" stroke-width="0.5" stroke-linejoin="round">*</text>
<line x1="713.9" y1="1168.2" x2="733.9" y2="1168.2" stroke="#808080" stroke-width="1.2"/>
<line x1="723.9" y1="1158.2" x2="723.9" y2="1178.3" stroke="#808080" stroke-width="1.2"/>
<line x1="718.7" y1="1158.2" x2="729.1" y2="1158.2" stroke="#808080" stroke-width="1.2"/>
<line x1="718.7" y1="1178.3" x2="729.1" y2="1178.3" stroke="#808080" stroke-width="1.2"/>
<circle cx="723.9" cy="1149.9" r="2.7" fill="#808080"/>
<circle cx="723.9" cy="1170.9" r="2.7" fill="#808080"/>
<circle cx="723.9" cy="1184.3" r="2.7" fill="#808080"/>
<line x1="743.2" y1="1217.3" x2="762.2" y2="1217.3" stroke="#808080" stroke-width="1.2"/>
<line x1="752.7" y1="1214.4" x2="752.7" y2="1220.2" stroke="#808080" stroke-width="1.2"/>
<line x1="748.2" y1="1214.4" x2="757.2" y2="1214.4" stroke="#808080" stroke-width="1.2"/>
<line x1="748.2" y1="1220.2" x2="757.2" y2="1220.2" stroke="#808080" stroke-width="1.2"/>
<circle cx="752.7" cy="1211.3" r="2.6" fill="#fff" stroke="#808080" stroke-width="1.1"/>
<circle cx="752.7" cy="1217.3" r="2.6" fill="#fff" stroke="#808080" stroke-width="1.1"/>
<circle cx="745.5" cy="1221.1" r="2.6" fill="#fff" stroke="#808080" stroke-width="1.1"/>
<circle cx="759.4" cy="1219.1" r="2.6" fill="#fff" stroke="#808080" stroke-width="1.1"/>
<line x1="771" y1="1163.3" x2="791" y2="1163.3" stroke="#ee3a14" stroke-width="1.2"/>
<line x1="781" y1="1146.4" x2="781" y2="1180.1" stroke="#ee3a14" stroke-width="1.2"/>
<line x1="775.8" y1="1146.4" x2="786.2" y2="1146.4" stroke="#ee3a14" stroke-width="1.2"/>
<line x1="775.8" y1="1180.1" x2="786.2" y2="1180.1" stroke="#ee3a14" stroke-width="1.2"/>
<circle cx="781" cy="1115.8" r="2.7" fill="#ee3a14"/>
<circle cx="781" cy="1163.3" r="2.7" fill="#ee3a14"/>
<circle cx="774.6" cy="1189.4" r="2.7" fill="#ee3a14"/>
<circle cx="787.9" cy="1184.3" r="2.7" fill="#ee3a14"/>
<line x1="800.1" y1="1211.3" x2="819.1" y2="1211.3" stroke="#ee3a14" stroke-width="1.2"/>
<line x1="809.6" y1="1208.8" x2="809.6" y2="1213.8" stroke="#ee3a14" stroke-width="1.2"/>
<line x1="805.1" y1="1208.8" x2="814.1" y2="1208.8" stroke="#ee3a14" stroke-width="1.2"/>
<line x1="805.1" y1="1213.8" x2="814.1" y2="1213.8" stroke="#ee3a14" stroke-width="1.2"/>
<circle cx="802.9" cy="1213.5" r="2.6" fill="#fff" stroke="#ee3a14" stroke-width="1.1"/>
<circle cx="809.6" cy="1210" r="2.6" fill="#fff" stroke="#ee3a14" stroke-width="1.1"/>
<circle cx="816.5" cy="1206.2" r="2.6" fill="#fff" stroke="#ee3a14" stroke-width="1.1"/>
<circle cx="816.5" cy="1212.4" r="2.6" fill="#fff" stroke="#ee3a14" stroke-width="1.1"/>
</g>
</svg>
</body></html>
